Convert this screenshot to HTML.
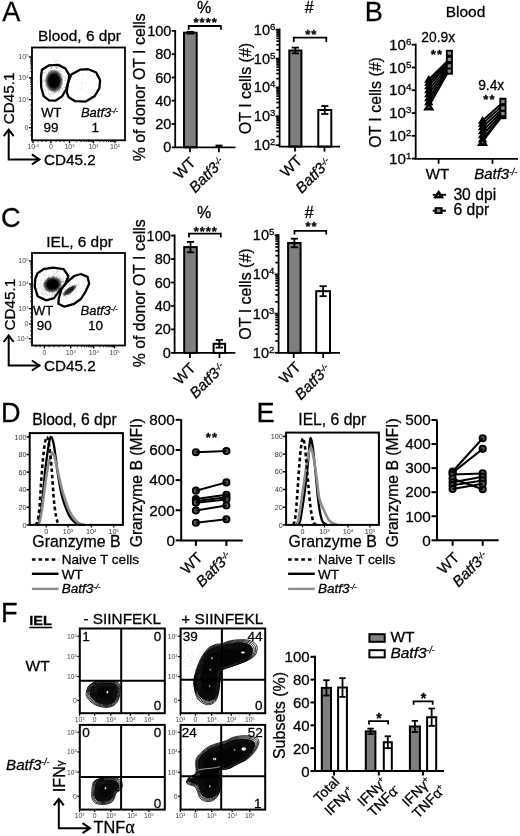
<!DOCTYPE html>
<html><head><meta charset="utf-8"><style>
html,body{margin:0;padding:0;background:#fff;}
svg{display:block;font-family:"Liberation Sans", Arial, Helvetica, sans-serif;}
text{stroke:#000;stroke-width:0.28px;}
text.lt{stroke:none;}
</style></head><body>
<svg width="520" height="836" viewBox="0 0 520 836">
<rect width="520" height="836" fill="#fff"/>
<text x="2.2" y="21.25" text-anchor="start" style="font-size:27.2px;" fill="#000">A</text>
<text x="364.7" y="21.2" text-anchor="start" style="font-size:27.2px;" fill="#000">B</text>
<text x="1.0" y="227.3" text-anchor="start" style="font-size:27.2px;" fill="#000">C</text>
<text x="0.9" y="421.8" text-anchor="start" style="font-size:27.2px;" fill="#000">D</text>
<text x="256.5" y="421.8" text-anchor="start" style="font-size:27.2px;" fill="#000">E</text>
<text x="1.0" y="621.7" text-anchor="start" style="font-size:27.2px;" fill="#000">F</text>
<rect x="32" y="47.5" width="93" height="92.80000000000001" fill="none" stroke="#000" stroke-width="1.8"/>
<text x="79.5" y="40.5" text-anchor="middle" style="font-size:15.4px;" fill="#000">Blood, 6 dpr</text>
<defs><radialGradient id="g8"><stop offset="0" stop-color="#000" stop-opacity="1.000"/><stop offset="0.55" stop-color="#000" stop-opacity="0.970"/><stop offset="0.8" stop-color="#000" stop-opacity="0.550"/><stop offset="1.0" stop-color="#000" stop-opacity="0.000"/></radialGradient></defs>
<ellipse cx="54" cy="81" rx="9.5" ry="12" fill="url(#g8)" transform="rotate(0 54 81)"/>
<path d="M61.3,91.4h0.6M54.4,75.5h0.6M47.8,81.2h0.6M48.2,70.7h0.6M55.1,82.0h0.6M57.1,74.4h0.6M54.0,80.5h0.6M45.4,84.9h0.6M55.8,98.2h0.6M55.2,80.0h0.6M61.0,82.4h0.6M59.2,78.4h0.6M55.2,88.4h0.6M58.0,81.9h0.6M47.8,84.2h0.6M54.4,86.2h0.6M55.2,88.8h0.6M53.7,82.5h0.6M57.8,73.2h0.6M51.7,77.4h0.6M65.3,80.3h0.6M57.7,85.5h0.6M52.4,69.8h0.6M59.5,78.1h0.6M58.1,71.6h0.6M51.5,90.0h0.6M62.2,71.6h0.6M46.4,80.7h0.6M58.2,82.2h0.6M55.7,73.9h0.6M57.3,89.0h0.6M51.5,70.7h0.6M49.7,86.5h0.6M44.1,80.3h0.6M48.4,80.1h0.6M52.6,81.1h0.6M62.6,84.0h0.6M61.6,80.0h0.6M51.3,83.7h0.6M37.8,80.7h0.6M54.9,72.1h0.6M56.6,77.0h0.6M40.0,79.5h0.6M48.4,77.3h0.6M53.1,90.0h0.6M54.6,80.8h0.6M56.2,68.0h0.6M61.1,73.2h0.6M56.5,72.9h0.6M48.4,78.1h0.6M64.8,86.0h0.6M50.6,79.0h0.6M47.4,80.8h0.6M50.7,86.2h0.6M46.3,78.6h0.6M49.2,75.8h0.6M58.1,81.9h0.6M57.3,89.6h0.6M60.6,71.1h0.6M57.1,68.3h0.6M53.6,94.8h0.6M52.9,78.3h0.6M55.0,81.1h0.6M54.2,75.5h0.6M60.2,87.4h0.6M52.8,83.3h0.6M57.8,88.4h0.6M56.2,86.0h0.6M52.5,73.3h0.6M51.2,88.3h0.6M59.6,82.1h0.6M50.8,83.2h0.6M63.5,90.8h0.6M50.1,80.7h0.6M45.7,72.8h0.6M55.1,81.2h0.6M59.5,90.1h0.6M58.8,90.5h0.6M50.9,72.9h0.6M56.9,100.3h0.6M56.0,72.7h0.6M55.4,91.3h0.6M48.1,86.8h0.6M50.5,90.2h0.6M58.5,83.2h0.6M65.4,78.1h0.6M50.1,94.4h0.6M49.0,96.8h0.6M53.8,73.5h0.6M54.0,81.9h0.6M55.1,79.6h0.6M60.2,64.3h0.6M50.8,79.1h0.6M64.4,66.7h0.6M52.1,72.8h0.6M50.2,85.6h0.6M56.3,91.4h0.6M50.6,82.9h0.6M60.7,87.5h0.6M52.1,89.1h0.6M48.7,94.0h0.6M54.9,80.2h0.6M55.5,87.1h0.6M63.9,80.0h0.6M51.9,85.2h0.6M49.0,68.8h0.6M58.8,78.3h0.6M60.4,73.6h0.6M37.5,83.0h0.6M54.9,92.5h0.6M57.0,83.2h0.6M57.3,78.4h0.6M54.4,71.3h0.6M57.0,75.2h0.6M51.5,86.0h0.6M59.2,73.7h0.6M65.4,76.7h0.6M58.8,87.8h0.6M55.3,82.2h0.6M64.2,87.4h0.6M56.5,67.9h0.6M49.7,89.4h0.6M55.1,74.1h0.6M50.3,78.8h0.6M57.9,83.8h0.6M59.7,75.1h0.6M59.6,77.4h0.6M52.3,93.5h0.6M54.4,80.0h0.6M52.8,78.2h0.6M62.9,90.9h0.6M58.1,82.3h0.6M59.9,80.4h0.6M56.6,83.9h0.6M54.5,92.9h0.6M64.0,90.5h0.6M43.1,94.2h0.6M58.0,77.8h0.6M53.9,89.2h0.6M60.7,87.2h0.6M54.8,81.3h0.6M58.7,80.3h0.6M48.9,76.5h0.6M53.2,83.4h0.6M66.9,71.1h0.6M56.7,80.3h0.6M55.7,90.7h0.6M61.1,79.9h0.6M50.8,71.2h0.6M53.6,90.0h0.6M52.5,86.1h0.6M58.0,83.9h0.6M60.2,80.2h0.6M49.3,72.6h0.6M59.3,78.4h0.6M52.2,87.0h0.6M49.5,93.7h0.6M57.8,77.2h0.6M50.4,88.8h0.6M47.3,76.4h0.6M54.0,82.5h0.6M54.1,83.8h0.6M51.9,80.1h0.6M61.2,85.7h0.6M51.4,93.3h0.6M42.7,81.6h0.6M57.8,88.0h0.6M54.6,78.2h0.6M57.3,79.6h0.6M56.7,60.4h0.6M56.2,75.3h0.6M59.4,86.4h0.6M58.2,78.1h0.6M56.5,78.5h0.6M55.2,80.0h0.6M49.0,95.2h0.6M58.1,66.2h0.6M59.1,71.0h0.6M52.7,76.8h0.6M51.0,82.7h0.6M52.1,70.6h0.6M54.0,83.6h0.6M64.1,78.0h0.6M47.2,78.3h0.6M57.7,74.6h0.6M49.9,85.0h0.6M53.9,82.6h0.6M50.4,75.1h0.6M52.2,79.9h0.6M52.1,84.1h0.6M57.1,84.9h0.6M56.7,74.6h0.6M47.6,86.8h0.6M54.1,81.9h0.6M47.4,79.5h0.6M50.4,74.8h0.6M50.4,70.2h0.6M54.5,89.4h0.6M50.0,81.7h0.6M47.8,85.8h0.6M64.6,72.1h0.6M52.7,91.3h0.6M56.1,81.8h0.6M42.4,79.9h0.6M59.2,91.3h0.6M57.7,76.8h0.6M50.1,67.9h0.6M47.9,89.1h0.6M53.3,71.4h0.6M61.5,69.0h0.6M61.2,78.7h0.6M55.9,85.9h0.6M55.5,90.2h0.6M54.1,78.6h0.6M50.2,70.6h0.6M50.0,88.1h0.6M58.7,91.0h0.6M69.5,86.1h0.6M56.9,71.5h0.6M52.6,96.8h0.6M57.0,80.0h0.6M55.8,67.4h0.6M49.2,71.6h0.6M41.8,86.5h0.6M59.5,79.7h0.6M56.0,73.7h0.6M56.6,86.5h0.6M62.7,92.2h0.6M56.8,80.1h0.6M49.3,76.6h0.6M57.5,85.1h0.6M54.1,93.0h0.6M57.7,81.1h0.6M52.9,81.6h0.6M48.6,73.9h0.6M56.0,76.8h0.6M52.5,89.8h0.6M52.9,90.5h0.6M54.0,91.9h0.6M56.6,68.3h0.6M61.1,79.5h0.6M42.8,81.8h0.6M54.9,71.7h0.6M50.5,84.9h0.6M62.0,89.2h0.6M61.0,89.1h0.6M39.8,75.8h0.6M55.1,61.6h0.6M58.4,87.4h0.6M49.6,78.3h0.6M48.6,80.9h0.6M53.8,80.9h0.6M48.2,83.8h0.6M52.1,87.8h0.6M55.8,70.3h0.6M45.8,81.5h0.6M51.2,84.4h0.6M58.6,81.1h0.6M44.4,72.4h0.6M57.3,73.4h0.6M60.3,80.3h0.6M57.0,74.6h0.6M53.4,59.7h0.6M52.8,85.1h0.6M48.9,74.9h0.6M53.7,81.5h0.6M49.4,85.9h0.6M44.6,89.0h0.6M46.0,75.1h0.6M61.6,73.8h0.6M44.6,81.5h0.6M48.8,73.0h0.6M50.0,75.6h0.6M48.4,73.6h0.6M63.2,76.2h0.6M59.5,70.9h0.6M57.1,72.0h0.6M51.4,85.6h0.6M51.0,66.9h0.6M50.9,79.9h0.6M57.3,73.8h0.6M52.3,81.5h0.6M44.6,80.2h0.6M49.3,84.2h0.6M53.4,79.8h0.6M40.2,80.2h0.6M51.9,74.2h0.6M51.1,71.9h0.6M55.0,85.8h0.6M57.4,77.3h0.6M63.6,87.2h0.6M48.6,80.0h0.6M44.7,80.1h0.6M58.1,90.1h0.6M51.6,68.1h0.6M53.0,90.8h0.6M54.8,90.2h0.6M58.7,92.2h0.6M57.4,76.2h0.6M56.5,99.3h0.6M51.0,67.6h0.6M66.0,83.9h0.6M50.4,76.6h0.6M45.2,86.1h0.6M54.8,76.4h0.6M51.6,77.9h0.6M60.1,79.7h0.6M61.9,75.0h0.6M50.5,77.5h0.6M50.9,80.3h0.6M59.8,89.7h0.6M47.9,90.2h0.6M54.5,92.4h0.6M53.0,75.0h0.6M58.5,85.5h0.6M51.4,81.2h0.6M54.7,83.2h0.6M44.2,72.3h0.6M54.3,82.9h0.6M51.0,68.3h0.6M61.7,78.8h0.6M48.0,92.5h0.6M60.5,88.5h0.6M58.8,85.1h0.6M48.4,81.2h0.6M56.0,85.6h0.6M56.7,73.7h0.6M50.6,78.6h0.6M52.9,74.7h0.6M43.6,72.2h0.6M55.8,80.9h0.6M57.3,67.4h0.6M51.6,87.4h0.6M42.8,73.2h0.6M44.5,89.7h0.6M54.2,76.9h0.6M54.9,80.3h0.6M59.2,89.4h0.6M59.2,83.5h0.6M58.4,86.9h0.6M60.6,67.8h0.6M56.0,81.6h0.6M54.9,79.2h0.6M53.6,84.6h0.6M55.1,81.9h0.6M47.9,72.0h0.6M49.7,68.2h0.6M51.1,74.9h0.6M43.8,67.0h0.6M51.3,76.8h0.6" stroke="#000" stroke-width="0.6" stroke-opacity="0.5"/>
<path d="M95.4,88.5h0.6M79.9,81.4h0.6M78.7,79.9h0.6M82.2,83.7h0.6M80.7,88.3h0.6M87.4,94.3h0.6M77.1,87.6h0.6M82.0,75.6h0.6M82.4,75.4h0.6M83.9,98.4h0.6M90.9,93.6h0.6M90.3,75.9h0.6M86.2,84.7h0.6M86.3,78.5h0.6M73.6,95.0h0.6M90.3,85.6h0.6M81.4,85.0h0.6M77.5,89.0h0.6M84.9,83.2h0.6M81.7,83.6h0.6M84.7,81.9h0.6M89.1,85.1h0.6M83.5,79.5h0.6M90.4,90.8h0.6M87.6,74.3h0.6M82.2,89.2h0.6M84.2,90.7h0.6M81.7,88.2h0.6M86.8,71.2h0.6M81.9,82.8h0.6" stroke="#000" stroke-width="0.6" stroke-opacity="0.25"/>
<polygon points="41.9,69.8 49.1,65.3 58.2,64.9 65.4,68.5 69.3,75.1 68.4,81.6 66.1,89.5 62.2,96.3 55.6,100.6 49.1,100.3 43.8,96.3 41.2,87.5 41.0,76.4" fill="none" stroke="#000" stroke-width="2.3" stroke-linejoin="round"/>
<polygon points="71.3,74.4 80.5,69.6 88.3,69.2 96.2,72.5 100.1,80.3 99.4,88.2 94.8,96.0 85.7,101.6 75.2,101.2 68.7,97.3 66.7,92.1 68.0,82.9" fill="none" stroke="#000" stroke-width="2.3" stroke-linejoin="round"/>
<text x="51.3" y="117" text-anchor="middle" style="font-size:13px;" fill="#000">WT</text>
<text x="51.0" y="131.8" text-anchor="middle" style="font-size:13.5px;" fill="#000">99</text>
<text x="80.9" y="117" text-anchor="start" style="font-size:13px;" fill="#000"><tspan font-style="italic">Batf3</tspan><tspan font-style="italic" font-size="55%" baseline-shift="super">-/-</tspan></text>
<text x="95.3" y="131.8" text-anchor="middle" style="font-size:13.5px;" fill="#000">1</text>
<line x1="29" y1="57" x2="32" y2="57" stroke="#000" stroke-width="1.3"/>
<text x="28.5" y="59.3" text-anchor="end" style="font-size:7px;" fill="#444" class="lt">10<tspan font-size="60%" baseline-shift="super">5</tspan></text>
<line x1="29" y1="77.8" x2="32" y2="77.8" stroke="#000" stroke-width="1.3"/>
<text x="28.5" y="80.1" text-anchor="end" style="font-size:7px;" fill="#444" class="lt">10<tspan font-size="60%" baseline-shift="super">4</tspan></text>
<line x1="29" y1="99.7" x2="32" y2="99.7" stroke="#000" stroke-width="1.3"/>
<text x="28.5" y="102.0" text-anchor="end" style="font-size:7px;" fill="#444" class="lt">10<tspan font-size="60%" baseline-shift="super">3</tspan></text>
<line x1="29" y1="127.7" x2="32" y2="127.7" stroke="#000" stroke-width="1.3"/>
<text x="28.5" y="130.0" text-anchor="end" style="font-size:7px;" fill="#444" class="lt">0</text>
<line x1="33" y1="140.3" x2="33" y2="143.3" stroke="#000" stroke-width="1.3"/>
<text x="33" y="149.3" text-anchor="middle" style="font-size:7px;" fill="#444" class="lt">10<tspan font-size="60%" baseline-shift="super">-3</tspan></text>
<line x1="51" y1="140.3" x2="51" y2="143.3" stroke="#000" stroke-width="1.3"/>
<text x="51" y="149.3" text-anchor="middle" style="font-size:7px;" fill="#444" class="lt">0</text>
<line x1="69.5" y1="140.3" x2="69.5" y2="143.3" stroke="#000" stroke-width="1.3"/>
<text x="69.5" y="149.3" text-anchor="middle" style="font-size:7px;" fill="#444" class="lt">10<tspan font-size="60%" baseline-shift="super">3</tspan></text>
<line x1="93.5" y1="140.3" x2="93.5" y2="143.3" stroke="#000" stroke-width="1.3"/>
<text x="93.5" y="149.3" text-anchor="middle" style="font-size:7px;" fill="#444" class="lt">10<tspan font-size="60%" baseline-shift="super">4</tspan></text>
<line x1="115" y1="140.3" x2="115" y2="143.3" stroke="#000" stroke-width="1.3"/>
<text x="115" y="149.3" text-anchor="middle" style="font-size:7px;" fill="#444" class="lt">10<tspan font-size="60%" baseline-shift="super">5</tspan></text>
<line x1="30.2" y1="71.5385760901892" x2="32" y2="71.5385760901892" stroke="#000" stroke-width="0.9"/>
<line x1="30.2" y1="67.87587790183102" x2="32" y2="67.87587790183102" stroke="#000" stroke-width="0.9"/>
<line x1="30.2" y1="65.27715218037838" x2="32" y2="65.27715218037838" stroke="#000" stroke-width="0.9"/>
<line x1="30.2" y1="63.26142390981081" x2="32" y2="63.26142390981081" stroke="#000" stroke-width="0.9"/>
<line x1="30.2" y1="61.614453992020216" x2="32" y2="61.614453992020216" stroke="#000" stroke-width="0.9"/>
<line x1="30.2" y1="60.22196076770346" x2="32" y2="60.22196076770346" stroke="#000" stroke-width="0.9"/>
<line x1="30.2" y1="59.01572827056758" x2="32" y2="59.01572827056758" stroke="#000" stroke-width="0.9"/>
<line x1="30.2" y1="57.95175580366204" x2="32" y2="57.95175580366204" stroke="#000" stroke-width="0.9"/>
<line x1="30.2" y1="93.10744309495881" x2="32" y2="93.10744309495881" stroke="#000" stroke-width="0.9"/>
<line x1="30.2" y1="89.25104452163939" x2="32" y2="89.25104452163939" stroke="#000" stroke-width="0.9"/>
<line x1="30.2" y1="86.51488618991762" x2="32" y2="86.51488618991762" stroke="#000" stroke-width="0.9"/>
<line x1="30.2" y1="84.39255690504119" x2="32" y2="84.39255690504119" stroke="#000" stroke-width="0.9"/>
<line x1="30.2" y1="82.65848761659821" x2="32" y2="82.65848761659821" stroke="#000" stroke-width="0.9"/>
<line x1="30.2" y1="81.19235292368778" x2="32" y2="81.19235292368778" stroke="#000" stroke-width="0.9"/>
<line x1="30.2" y1="79.92232928487644" x2="32" y2="79.92232928487644" stroke="#000" stroke-width="0.9"/>
<line x1="30.2" y1="78.80208904327878" x2="32" y2="78.80208904327878" stroke="#000" stroke-width="0.9"/>
<line x1="30.2" y1="105" x2="32" y2="105" stroke="#000" stroke-width="0.9"/>
<line x1="30.2" y1="110" x2="32" y2="110" stroke="#000" stroke-width="0.9"/>
<line x1="30.2" y1="115" x2="32" y2="115" stroke="#000" stroke-width="0.9"/>
<line x1="30.2" y1="120" x2="32" y2="120" stroke="#000" stroke-width="0.9"/>
<line x1="30.2" y1="124" x2="32" y2="124" stroke="#000" stroke-width="0.9"/>
<line x1="30.2" y1="131" x2="32" y2="131" stroke="#000" stroke-width="0.9"/>
<line x1="30.2" y1="135" x2="32" y2="135" stroke="#000" stroke-width="0.9"/>
<line x1="76.72471989593555" y1="140.3" x2="76.72471989593555" y2="142.10000000000002" stroke="#000" stroke-width="0.9"/>
<line x1="80.9509101132719" y1="140.3" x2="80.9509101132719" y2="142.10000000000002" stroke="#000" stroke-width="0.9"/>
<line x1="83.9494397918711" y1="140.3" x2="83.9494397918711" y2="142.10000000000002" stroke="#000" stroke-width="0.9"/>
<line x1="86.27528010406445" y1="140.3" x2="86.27528010406445" y2="142.10000000000002" stroke="#000" stroke-width="0.9"/>
<line x1="88.17563000920745" y1="140.3" x2="88.17563000920745" y2="142.10000000000002" stroke="#000" stroke-width="0.9"/>
<line x1="89.78235296034217" y1="140.3" x2="89.78235296034217" y2="142.10000000000002" stroke="#000" stroke-width="0.9"/>
<line x1="91.17415968780665" y1="140.3" x2="91.17415968780665" y2="142.10000000000002" stroke="#000" stroke-width="0.9"/>
<line x1="92.4018202265438" y1="140.3" x2="92.4018202265438" y2="142.10000000000002" stroke="#000" stroke-width="0.9"/>
<line x1="99.9721449067756" y1="140.3" x2="99.9721449067756" y2="142.10000000000002" stroke="#000" stroke-width="0.9"/>
<line x1="103.75810697647275" y1="140.3" x2="103.75810697647275" y2="142.10000000000002" stroke="#000" stroke-width="0.9"/>
<line x1="106.4442898135512" y1="140.3" x2="106.4442898135512" y2="142.10000000000002" stroke="#000" stroke-width="0.9"/>
<line x1="108.5278550932244" y1="140.3" x2="108.5278550932244" y2="142.10000000000002" stroke="#000" stroke-width="0.9"/>
<line x1="110.23025188324834" y1="140.3" x2="110.23025188324834" y2="142.10000000000002" stroke="#000" stroke-width="0.9"/>
<line x1="111.66960786030651" y1="140.3" x2="111.66960786030651" y2="142.10000000000002" stroke="#000" stroke-width="0.9"/>
<line x1="112.91643472032679" y1="140.3" x2="112.91643472032679" y2="142.10000000000002" stroke="#000" stroke-width="0.9"/>
<line x1="114.01621395294549" y1="140.3" x2="114.01621395294549" y2="142.10000000000002" stroke="#000" stroke-width="0.9"/>
<line x1="38" y1="140.3" x2="38" y2="142.10000000000002" stroke="#000" stroke-width="0.9"/>
<line x1="42" y1="140.3" x2="42" y2="142.10000000000002" stroke="#000" stroke-width="0.9"/>
<line x1="46" y1="140.3" x2="46" y2="142.10000000000002" stroke="#000" stroke-width="0.9"/>
<line x1="56" y1="140.3" x2="56" y2="142.10000000000002" stroke="#000" stroke-width="0.9"/>
<line x1="60" y1="140.3" x2="60" y2="142.10000000000002" stroke="#000" stroke-width="0.9"/>
<line x1="64" y1="140.3" x2="64" y2="142.10000000000002" stroke="#000" stroke-width="0.9"/>
<path d="M8.7,129.6 V159.4 H39.4" fill="none" stroke="#000" stroke-width="2.0" stroke-linejoin="miter"/>
<path d="M3.6999999999999993,136.1 L8.7,129.6 L13.7,136.1" fill="none" stroke="#000" stroke-width="2.0"/>
<path d="M31.9,154.4 L39.4,159.4 L31.9,164.4" fill="none" stroke="#000" stroke-width="2.0"/>
<text x="44" y="164.6" text-anchor="start" style="font-size:15.3px;" fill="#000">CD45.2</text>
<text x="14.5" y="124.3" text-anchor="start" style="font-size:15.3px;" fill="#000" transform="rotate(-90 14.5 124.3)">CD45.1</text>
<rect x="32" y="253" width="93" height="92.5" fill="none" stroke="#000" stroke-width="1.8"/>
<text x="79.5" y="247" text-anchor="middle" style="font-size:15.4px;" fill="#000">IEL, 6 dpr</text>
<defs><radialGradient id="g88"><stop offset="0" stop-color="#000" stop-opacity="1.000"/><stop offset="0.55" stop-color="#000" stop-opacity="0.970"/><stop offset="0.8" stop-color="#000" stop-opacity="0.550"/><stop offset="1.0" stop-color="#000" stop-opacity="0.000"/></radialGradient></defs>
<ellipse cx="52.5" cy="284.5" rx="10" ry="8.5" fill="url(#g88)" transform="rotate(-10 52.5 284.5)"/>
<path d="M47.6,280.3h0.6M62.6,282.1h0.6M56.3,276.3h0.6M38.7,284.3h0.6M54.4,280.1h0.6M56.7,288.3h0.6M49.6,284.7h0.6M48.8,291.2h0.6M64.3,285.2h0.6M48.6,281.2h0.6M51.6,289.7h0.6M49.1,293.4h0.6M44.7,285.8h0.6M62.6,292.7h0.6M50.7,289.3h0.6M69.8,288.0h0.6M38.7,288.5h0.6M66.6,275.5h0.6M56.3,272.1h0.6M61.9,278.1h0.6M58.5,288.5h0.6M33.3,279.9h0.6M53.2,275.8h0.6M51.5,279.4h0.6M60.6,280.2h0.6M47.3,289.0h0.6M60.2,282.3h0.6M54.8,286.9h0.6M48.2,278.6h0.6M55.6,282.0h0.6M44.6,290.7h0.6M55.4,284.8h0.6M47.5,284.1h0.6M56.9,286.5h0.6M46.4,280.5h0.6M54.9,285.1h0.6M56.8,277.2h0.6M60.1,293.1h0.6M58.7,284.1h0.6M57.1,276.5h0.6M51.6,296.2h0.6M40.9,280.0h0.6M57.1,280.0h0.6M47.8,279.0h0.6M62.7,279.3h0.6M49.0,274.9h0.6M57.4,283.6h0.6M57.2,292.5h0.6M52.3,277.8h0.6M46.1,286.1h0.6M59.8,276.5h0.6M50.8,284.0h0.6M55.9,278.9h0.6M55.2,288.4h0.6M52.2,284.0h0.6M57.0,287.0h0.6M59.5,277.2h0.6M60.2,281.9h0.6M44.7,282.8h0.6M44.4,284.8h0.6M57.0,271.1h0.6M45.7,290.0h0.6M51.3,289.2h0.6M44.0,285.7h0.6M35.0,282.8h0.6M58.4,290.3h0.6M62.9,282.4h0.6M46.5,283.4h0.6M41.5,294.0h0.6M59.2,278.2h0.6M62.9,275.1h0.6M55.3,279.5h0.6M41.8,288.6h0.6M46.2,292.3h0.6M46.8,286.1h0.6M49.6,285.8h0.6M49.2,289.7h0.6M56.5,284.2h0.6M53.6,295.4h0.6M47.6,282.9h0.6M57.4,283.6h0.6M41.9,285.6h0.6M49.1,279.5h0.6M52.7,278.1h0.6M49.8,278.6h0.6M62.2,281.2h0.6M55.6,285.6h0.6M56.9,282.9h0.6M57.4,284.3h0.6M37.1,289.0h0.6M45.1,291.1h0.6M53.5,282.2h0.6M34.3,275.7h0.6M44.6,283.8h0.6M45.6,296.9h0.6M55.3,283.5h0.6M45.9,283.8h0.6M50.6,282.4h0.6M52.8,289.0h0.6M41.4,287.7h0.6M58.2,275.8h0.6M50.9,282.6h0.6M46.1,291.0h0.6M51.5,291.1h0.6M54.9,282.5h0.6M54.0,282.1h0.6M43.4,294.1h0.6M56.0,290.4h0.6M41.9,292.2h0.6M57.7,283.3h0.6M39.0,287.4h0.6M48.0,284.2h0.6M52.0,279.5h0.6M51.7,284.7h0.6M61.7,282.3h0.6M66.4,275.4h0.6M52.8,291.4h0.6M43.0,289.6h0.6M54.5,280.8h0.6M52.4,293.2h0.6M49.9,286.5h0.6M56.4,290.6h0.6M37.9,278.8h0.6M43.6,284.5h0.6M57.2,288.3h0.6M52.1,293.1h0.6M52.7,288.3h0.6M48.4,289.9h0.6M49.0,291.6h0.6M59.8,293.7h0.6M48.7,278.7h0.6M58.1,285.3h0.6M47.8,277.8h0.6M55.7,273.0h0.6M50.5,290.8h0.6M51.3,287.3h0.6M56.2,287.2h0.6M59.9,286.9h0.6M48.9,278.2h0.6M50.0,281.2h0.6M56.3,290.7h0.6M56.8,279.8h0.6M53.8,284.3h0.6M50.7,292.1h0.6M56.8,285.8h0.6M42.2,271.6h0.6M48.9,291.5h0.6M51.1,284.6h0.6M51.3,287.4h0.6M54.1,293.8h0.6M51.5,283.2h0.6M62.3,287.0h0.6M57.5,286.6h0.6M52.6,286.3h0.6M56.0,284.5h0.6M41.8,294.1h0.6M48.9,281.9h0.6M49.6,281.0h0.6M46.8,285.0h0.6M57.9,281.9h0.6M54.2,276.6h0.6M56.2,277.5h0.6M56.3,279.7h0.6M47.4,278.3h0.6M44.2,284.7h0.6M46.0,284.4h0.6M59.0,278.6h0.6M50.4,284.3h0.6M48.5,285.0h0.6M55.0,289.9h0.6M47.6,284.1h0.6M52.6,291.3h0.6M46.3,286.6h0.6M58.0,286.8h0.6M47.0,279.7h0.6M40.1,283.7h0.6M49.4,276.6h0.6M58.1,284.4h0.6M50.5,281.9h0.6M55.3,282.4h0.6M55.3,281.3h0.6M57.7,274.4h0.6M47.4,295.5h0.6M60.8,292.2h0.6M48.1,289.4h0.6M59.8,288.3h0.6M52.7,292.7h0.6M53.9,277.0h0.6M68.4,282.4h0.6M59.9,279.3h0.6M47.4,290.4h0.6M57.0,279.5h0.6M52.8,277.0h0.6M40.4,292.8h0.6M45.9,289.8h0.6M59.7,285.3h0.6M62.6,284.8h0.6M54.4,284.2h0.6M55.5,285.9h0.6M46.5,285.3h0.6M52.8,300.4h0.6M59.6,278.8h0.6M54.6,274.3h0.6M54.6,294.3h0.6M54.3,291.4h0.6M50.6,287.4h0.6M52.8,272.1h0.6M49.2,295.7h0.6M48.3,292.0h0.6M63.5,282.3h0.6M59.3,285.4h0.6M49.3,288.4h0.6M54.3,278.6h0.6M48.4,277.7h0.6M50.3,284.7h0.6M44.4,275.5h0.6M58.0,290.6h0.6M46.7,285.9h0.6M45.7,270.9h0.6M66.3,283.7h0.6M44.7,293.0h0.6M58.5,291.4h0.6M57.7,286.6h0.6M61.4,281.4h0.6M53.0,278.3h0.6M45.4,286.9h0.6M52.5,275.6h0.6M55.9,289.6h0.6M44.1,284.1h0.6M62.7,277.9h0.6M56.9,288.1h0.6M53.8,285.1h0.6M56.4,285.4h0.6M52.0,276.3h0.6M53.3,279.9h0.6M64.2,294.9h0.6M57.6,271.5h0.6M59.0,284.0h0.6M44.4,279.1h0.6M58.7,279.8h0.6M52.1,284.9h0.6M56.0,268.9h0.6M59.6,278.7h0.6M50.5,288.3h0.6M52.6,271.5h0.6M56.2,283.0h0.6M45.3,282.3h0.6M43.0,290.6h0.6M61.3,279.4h0.6M48.1,277.1h0.6M47.0,279.7h0.6M54.3,293.9h0.6M60.2,288.6h0.6M47.1,290.1h0.6M47.0,280.5h0.6M57.1,283.1h0.6M68.6,282.7h0.6M51.3,288.9h0.6M45.7,289.5h0.6M62.4,282.0h0.6M50.3,291.2h0.6M45.7,287.8h0.6M49.4,286.7h0.6M48.0,288.7h0.6M57.8,293.4h0.6M50.6,287.3h0.6M40.5,282.2h0.6M52.9,276.7h0.6M50.9,279.7h0.6M56.1,287.2h0.6M50.1,288.6h0.6M49.0,285.8h0.6M56.4,286.9h0.6M57.9,293.1h0.6M48.2,284.4h0.6M41.6,291.3h0.6M44.7,282.5h0.6M49.6,287.3h0.6M50.4,283.3h0.6M52.7,282.6h0.6M51.4,279.2h0.6M47.8,278.5h0.6M58.8,288.4h0.6M57.1,285.6h0.6M49.2,288.2h0.6M40.2,272.6h0.6M46.3,294.0h0.6M55.6,292.7h0.6M48.9,290.8h0.6M63.6,288.1h0.6M55.4,290.0h0.6M51.3,294.6h0.6M44.4,281.7h0.6M51.9,280.3h0.6M64.4,286.2h0.6M49.4,294.4h0.6M60.8,280.9h0.6M63.6,289.2h0.6M48.7,282.0h0.6M55.6,290.4h0.6M64.0,290.9h0.6M47.7,275.3h0.6M43.1,294.6h0.6M60.4,289.7h0.6M52.6,285.0h0.6M56.1,286.5h0.6M52.1,279.1h0.6M43.9,286.9h0.6M52.8,292.4h0.6M43.8,274.9h0.6M39.9,286.5h0.6M62.9,280.7h0.6M48.4,287.4h0.6M63.4,288.7h0.6M59.0,288.6h0.6M50.7,285.3h0.6M56.9,293.9h0.6M37.9,284.0h0.6M54.6,282.8h0.6M51.4,283.2h0.6M46.9,288.3h0.6M60.5,281.1h0.6M56.4,290.0h0.6M48.2,284.7h0.6M45.7,294.6h0.6M63.3,281.5h0.6M66.1,286.9h0.6M41.2,289.2h0.6M54.6,287.0h0.6M56.4,281.3h0.6M60.1,284.9h0.6M64.5,281.7h0.6M38.3,297.7h0.6M54.3,273.9h0.6M47.8,280.9h0.6M57.9,280.0h0.6M59.5,280.4h0.6M58.1,280.1h0.6M45.4,289.1h0.6M51.5,287.6h0.6M40.9,280.7h0.6M52.2,295.6h0.6M53.4,274.9h0.6M34.1,298.2h0.6M53.4,277.2h0.6M59.6,288.0h0.6M66.4,283.1h0.6M50.1,289.5h0.6M43.4,283.6h0.6M45.6,282.5h0.6" stroke="#000" stroke-width="0.6" stroke-opacity="0.5"/>
<defs><radialGradient id="g91"><stop offset="0" stop-color="#000" stop-opacity="0.850"/><stop offset="0.55" stop-color="#000" stop-opacity="0.825"/><stop offset="0.8" stop-color="#000" stop-opacity="0.468"/><stop offset="1.0" stop-color="#000" stop-opacity="0.000"/></radialGradient></defs>
<ellipse cx="69.7" cy="290.4" rx="9" ry="3.2" fill="url(#g91)" transform="rotate(-37 69.7 290.4)"/>
<path d="M61.3,292.7h0.6M64.6,295.3h0.6M69.8,290.1h0.6M73.1,290.0h0.6M74.9,292.3h0.6M71.7,290.0h0.6M68.7,294.2h0.6M72.9,279.7h0.6M72.3,285.3h0.6M71.6,289.2h0.6M61.5,292.8h0.6M71.9,296.1h0.6M62.9,294.4h0.6M67.9,291.0h0.6M78.1,289.8h0.6M70.0,291.3h0.6M70.2,294.5h0.6M70.3,291.8h0.6M70.2,293.2h0.6M68.2,289.1h0.6M76.7,279.7h0.6M70.1,289.1h0.6M67.9,297.6h0.6M70.8,288.4h0.6M65.7,294.4h0.6M69.4,290.0h0.6M68.4,295.7h0.6M70.5,289.2h0.6M62.3,293.8h0.6M72.4,286.3h0.6M72.8,287.7h0.6M72.2,289.5h0.6M67.1,291.6h0.6M70.2,291.8h0.6M83.0,282.8h0.6M66.1,299.3h0.6M68.2,289.6h0.6M70.3,289.8h0.6M70.9,289.4h0.6M71.3,292.8h0.6M78.4,284.1h0.6M79.0,286.0h0.6M76.1,286.3h0.6M71.8,291.0h0.6M64.9,294.1h0.6M65.2,296.3h0.6M71.6,290.7h0.6M67.0,290.3h0.6M74.0,286.0h0.6M68.7,291.3h0.6M72.1,288.7h0.6M63.0,292.5h0.6M74.4,286.0h0.6M67.3,289.7h0.6M75.0,287.7h0.6M64.7,289.4h0.6M78.0,282.6h0.6M63.2,293.9h0.6M64.0,294.7h0.6M65.3,290.4h0.6M72.0,286.3h0.6M60.8,298.1h0.6M65.5,290.5h0.6M60.4,295.5h0.6M66.0,291.8h0.6M68.9,294.6h0.6M75.5,286.9h0.6M71.9,287.4h0.6M63.1,296.9h0.6M75.7,283.9h0.6M65.3,291.8h0.6M63.8,296.4h0.6M66.1,297.0h0.6M78.2,284.2h0.6M68.3,289.0h0.6M74.4,287.1h0.6M60.9,294.4h0.6M71.4,287.7h0.6M72.2,289.2h0.6M76.8,284.8h0.6M76.5,288.4h0.6M75.9,284.8h0.6M74.5,293.9h0.6M67.9,290.1h0.6M68.7,287.8h0.6M64.8,292.9h0.6M69.6,293.3h0.6M63.9,294.2h0.6M70.6,288.9h0.6M76.4,291.6h0.6" stroke="#000" stroke-width="0.6" stroke-opacity="0.5"/>
<polygon points="37.6,273.1 43.4,269.2 53.0,267.7 63.6,269.2 68.4,276.0 65.5,283.7 59.7,290.4 54.0,298.1 46.3,300.4 37.6,296.2 34.7,286.5 35.3,278.8" fill="none" stroke="#000" stroke-width="2.3" stroke-linejoin="round"/>
<polygon points="58.8,298.1 61.7,288.5 68.4,280.8 74.2,276.0 80.9,274.0 87.6,276.9 89.2,283.7 85.7,291.3 80.9,299.0 74.2,303.8 64.5,306.7 58.4,303.8" fill="none" stroke="#000" stroke-width="2.3" stroke-linejoin="round"/>
<text x="43" y="315" text-anchor="middle" style="font-size:13px;" fill="#000">WT</text>
<text x="44.2" y="329.8" text-anchor="middle" style="font-size:13.5px;" fill="#000">90</text>
<text x="80.5" y="315" text-anchor="start" style="font-size:13px;" fill="#000"><tspan font-style="italic">Batf3</tspan><tspan font-style="italic" font-size="55%" baseline-shift="super">-/-</tspan></text>
<text x="95.5" y="329.8" text-anchor="middle" style="font-size:13.5px;" fill="#000">10</text>
<line x1="29" y1="261" x2="32" y2="261" stroke="#000" stroke-width="1.3"/>
<text x="28.5" y="263.3" text-anchor="end" style="font-size:7px;" fill="#444" class="lt">10<tspan font-size="60%" baseline-shift="super">5</tspan></text>
<line x1="29" y1="284" x2="32" y2="284" stroke="#000" stroke-width="1.3"/>
<text x="28.5" y="286.3" text-anchor="end" style="font-size:7px;" fill="#444" class="lt">10<tspan font-size="60%" baseline-shift="super">4</tspan></text>
<line x1="29" y1="308.7" x2="32" y2="308.7" stroke="#000" stroke-width="1.3"/>
<text x="28.5" y="311.0" text-anchor="end" style="font-size:7px;" fill="#444" class="lt">10<tspan font-size="60%" baseline-shift="super">3</tspan></text>
<line x1="29" y1="324" x2="32" y2="324" stroke="#000" stroke-width="1.3"/>
<text x="28.5" y="326.3" text-anchor="end" style="font-size:7px;" fill="#444" class="lt">0</text>
<line x1="29" y1="338.7" x2="32" y2="338.7" stroke="#000" stroke-width="1.3"/>
<text x="28.5" y="341.0" text-anchor="end" style="font-size:7px;" fill="#444" class="lt">10<tspan font-size="60%" baseline-shift="super">-3</tspan></text>
<line x1="44.5" y1="345.5" x2="44.5" y2="348.5" stroke="#000" stroke-width="1.3"/>
<text x="44.5" y="354.5" text-anchor="middle" style="font-size:7px;" fill="#444" class="lt">0</text>
<line x1="70.7" y1="345.5" x2="70.7" y2="348.5" stroke="#000" stroke-width="1.3"/>
<text x="70.7" y="354.5" text-anchor="middle" style="font-size:7px;" fill="#444" class="lt">10<tspan font-size="60%" baseline-shift="super">3</tspan></text>
<line x1="93.7" y1="345.5" x2="93.7" y2="348.5" stroke="#000" stroke-width="1.3"/>
<text x="93.7" y="354.5" text-anchor="middle" style="font-size:7px;" fill="#444" class="lt">10<tspan font-size="60%" baseline-shift="super">4</tspan></text>
<line x1="114.5" y1="345.5" x2="114.5" y2="348.5" stroke="#000" stroke-width="1.3"/>
<text x="114.5" y="354.5" text-anchor="middle" style="font-size:7px;" fill="#444" class="lt">10<tspan font-size="60%" baseline-shift="super">5</tspan></text>
<line x1="30.2" y1="277.07631009972846" x2="32" y2="277.07631009972846" stroke="#000" stroke-width="0.9"/>
<line x1="30.2" y1="273.0262111414478" x2="32" y2="273.0262111414478" stroke="#000" stroke-width="0.9"/>
<line x1="30.2" y1="270.15262019945686" x2="32" y2="270.15262019945686" stroke="#000" stroke-width="0.9"/>
<line x1="30.2" y1="267.92368990027154" x2="32" y2="267.92368990027154" stroke="#000" stroke-width="0.9"/>
<line x1="30.2" y1="266.1025212411762" x2="32" y2="266.1025212411762" stroke="#000" stroke-width="0.9"/>
<line x1="30.2" y1="264.5627450796721" x2="32" y2="264.5627450796721" stroke="#000" stroke-width="0.9"/>
<line x1="30.2" y1="263.2289302991853" x2="32" y2="263.2289302991853" stroke="#000" stroke-width="0.9"/>
<line x1="30.2" y1="262.0524222828955" x2="32" y2="262.0524222828955" stroke="#000" stroke-width="0.9"/>
<line x1="30.2" y1="301.26455910709967" x2="32" y2="301.26455910709967" stroke="#000" stroke-width="0.9"/>
<line x1="30.2" y1="296.91510500842435" x2="32" y2="296.91510500842435" stroke="#000" stroke-width="0.9"/>
<line x1="30.2" y1="293.8291182141993" x2="32" y2="293.8291182141993" stroke="#000" stroke-width="0.9"/>
<line x1="30.2" y1="291.4354408929003" x2="32" y2="291.4354408929003" stroke="#000" stroke-width="0.9"/>
<line x1="30.2" y1="289.479664115524" x2="32" y2="289.479664115524" stroke="#000" stroke-width="0.9"/>
<line x1="30.2" y1="287.82607841164787" x2="32" y2="287.82607841164787" stroke="#000" stroke-width="0.9"/>
<line x1="30.2" y1="286.393677321299" x2="32" y2="286.393677321299" stroke="#000" stroke-width="0.9"/>
<line x1="30.2" y1="285.13021001684865" x2="32" y2="285.13021001684865" stroke="#000" stroke-width="0.9"/>
<line x1="30.2" y1="313" x2="32" y2="313" stroke="#000" stroke-width="0.9"/>
<line x1="30.2" y1="317" x2="32" y2="317" stroke="#000" stroke-width="0.9"/>
<line x1="30.2" y1="321" x2="32" y2="321" stroke="#000" stroke-width="0.9"/>
<line x1="30.2" y1="327" x2="32" y2="327" stroke="#000" stroke-width="0.9"/>
<line x1="30.2" y1="331" x2="32" y2="331" stroke="#000" stroke-width="0.9"/>
<line x1="30.2" y1="335" x2="32" y2="335" stroke="#000" stroke-width="0.9"/>
<line x1="30.2" y1="342" x2="32" y2="342" stroke="#000" stroke-width="0.9"/>
<line x1="77.62368990027157" y1="345.5" x2="77.62368990027157" y2="347.3" stroke="#000" stroke-width="0.9"/>
<line x1="81.67378885855224" y1="345.5" x2="81.67378885855224" y2="347.3" stroke="#000" stroke-width="0.9"/>
<line x1="84.54737980054314" y1="345.5" x2="84.54737980054314" y2="347.3" stroke="#000" stroke-width="0.9"/>
<line x1="86.77631009972843" y1="345.5" x2="86.77631009972843" y2="347.3" stroke="#000" stroke-width="0.9"/>
<line x1="88.59747875882381" y1="345.5" x2="88.59747875882381" y2="347.3" stroke="#000" stroke-width="0.9"/>
<line x1="90.1372549203279" y1="345.5" x2="90.1372549203279" y2="347.3" stroke="#000" stroke-width="0.9"/>
<line x1="91.47106970081471" y1="345.5" x2="91.47106970081471" y2="347.3" stroke="#000" stroke-width="0.9"/>
<line x1="92.64757771710447" y1="345.5" x2="92.64757771710447" y2="347.3" stroke="#000" stroke-width="0.9"/>
<line x1="99.9614239098108" y1="345.5" x2="99.9614239098108" y2="347.3" stroke="#000" stroke-width="0.9"/>
<line x1="103.62412209816898" y1="345.5" x2="103.62412209816898" y2="347.3" stroke="#000" stroke-width="0.9"/>
<line x1="106.22284781962162" y1="345.5" x2="106.22284781962162" y2="347.3" stroke="#000" stroke-width="0.9"/>
<line x1="108.2385760901892" y1="345.5" x2="108.2385760901892" y2="347.3" stroke="#000" stroke-width="0.9"/>
<line x1="109.88554600797978" y1="345.5" x2="109.88554600797978" y2="347.3" stroke="#000" stroke-width="0.9"/>
<line x1="111.27803923229655" y1="345.5" x2="111.27803923229655" y2="347.3" stroke="#000" stroke-width="0.9"/>
<line x1="112.48427172943242" y1="345.5" x2="112.48427172943242" y2="347.3" stroke="#000" stroke-width="0.9"/>
<line x1="113.54824419633796" y1="345.5" x2="113.54824419633796" y2="347.3" stroke="#000" stroke-width="0.9"/>
<line x1="36" y1="345.5" x2="36" y2="347.3" stroke="#000" stroke-width="0.9"/>
<line x1="40" y1="345.5" x2="40" y2="347.3" stroke="#000" stroke-width="0.9"/>
<line x1="49" y1="345.5" x2="49" y2="347.3" stroke="#000" stroke-width="0.9"/>
<line x1="54" y1="345.5" x2="54" y2="347.3" stroke="#000" stroke-width="0.9"/>
<line x1="59" y1="345.5" x2="59" y2="347.3" stroke="#000" stroke-width="0.9"/>
<line x1="64" y1="345.5" x2="64" y2="347.3" stroke="#000" stroke-width="0.9"/>
<path d="M8.7,335.5 V365.5 H39.4" fill="none" stroke="#000" stroke-width="2.0" stroke-linejoin="miter"/>
<path d="M3.6999999999999993,342.0 L8.7,335.5 L13.7,342.0" fill="none" stroke="#000" stroke-width="2.0"/>
<path d="M31.9,360.5 L39.4,365.5 L31.9,370.5" fill="none" stroke="#000" stroke-width="2.0"/>
<text x="44" y="370.7" text-anchor="start" style="font-size:15.3px;" fill="#000">CD45.2</text>
<text x="14.5" y="330.5" text-anchor="start" style="font-size:15.3px;" fill="#000" transform="rotate(-90 14.5 330.5)">CD45.1</text>
<text x="204.2" y="13.2" text-anchor="middle" style="font-size:16px;" fill="#000">%</text>
<path d="M188.7,29.8 V26 H220.9 V29.8" fill="none" stroke="#000" stroke-width="1.8"/>
<text x="204.8" y="0" text-anchor="middle" style="font-size:10px;" fill="#000"></text>
<text x="193.57" y="26.669999999999998" text-anchor="start" style="font-size:13px;font-weight:bold;" fill="#000" letter-spacing="1.0">****</text>
<line x1="175.2" y1="30" x2="175.2" y2="147.3" stroke="#000" stroke-width="1.8"/>
<line x1="171.7" y1="30.9" x2="175.2" y2="30.9" stroke="#000" stroke-width="1.8"/>
<text x="171.39999999999998" y="35.9" text-anchor="end" style="font-size:14.5px;" fill="#000">100</text>
<line x1="171.7" y1="54.2" x2="175.2" y2="54.2" stroke="#000" stroke-width="1.8"/>
<text x="171.39999999999998" y="59.2" text-anchor="end" style="font-size:14.5px;" fill="#000">80</text>
<line x1="171.7" y1="77.5" x2="175.2" y2="77.5" stroke="#000" stroke-width="1.8"/>
<text x="171.39999999999998" y="82.5" text-anchor="end" style="font-size:14.5px;" fill="#000">60</text>
<line x1="171.7" y1="100.7" x2="175.2" y2="100.7" stroke="#000" stroke-width="1.8"/>
<text x="171.39999999999998" y="105.7" text-anchor="end" style="font-size:14.5px;" fill="#000">40</text>
<line x1="171.7" y1="124.0" x2="175.2" y2="124.0" stroke="#000" stroke-width="1.8"/>
<text x="171.39999999999998" y="129.0" text-anchor="end" style="font-size:14.5px;" fill="#000">20</text>
<line x1="171.7" y1="147.3" x2="175.2" y2="147.3" stroke="#000" stroke-width="1.8"/>
<text x="171.39999999999998" y="152.3" text-anchor="end" style="font-size:14.5px;" fill="#000">0</text>
<line x1="190.35" y1="32.7" x2="190.35" y2="31.8" stroke="#000" stroke-width="1.8"/>
<line x1="186.75" y1="31.8" x2="193.95" y2="31.8" stroke="#000" stroke-width="1.8"/>
<rect x="184.0" y="32.7" width="12.699999999999989" height="114.60000000000001" fill="#7f7f7f" stroke="#000" stroke-width="2.0"/>
<line x1="190.35" y1="32.7" x2="190.35" y2="33.60000000000001" stroke="#000" stroke-width="1.8"/>
<line x1="186.75" y1="33.60000000000001" x2="193.95" y2="33.60000000000001" stroke="#000" stroke-width="1.8"/>
<rect x="215.5" y="144.6" width="7" height="2.7" fill="#000"/>
<line x1="174.29999999999998" y1="147.3" x2="235.4" y2="147.3" stroke="#000" stroke-width="1.8"/>
<line x1="190" y1="147.3" x2="190" y2="152.3" stroke="#000" stroke-width="1.8"/>
<line x1="218.9" y1="147.3" x2="218.9" y2="152.3" stroke="#000" stroke-width="1.8"/>
<text x="196.5" y="163.6" text-anchor="end" style="font-size:15px;" fill="#000" transform="rotate(-45 196.5 163.6)">WT</text>
<text x="225.5" y="163.1" text-anchor="end" style="font-size:15px;" fill="#000" transform="rotate(-45 225.5 163.1)"><tspan font-style="italic">Batf3</tspan><tspan font-style="italic" font-size="55%" baseline-shift="super">-/-</tspan></text>
<text x="144.8" y="87.3" text-anchor="middle" style="font-size:15.9px;" fill="#000" transform="rotate(-90 144.8 87.3)">% of donor OT I cells</text>
<text x="309.3" y="13" text-anchor="middle" style="font-size:16px;" fill="#000">#</text>
<path d="M293.8,41.900000000000006 V37.7 H326.3 V41.900000000000006" fill="none" stroke="#000" stroke-width="1.8"/>
<text x="310.05" y="0" text-anchor="middle" style="font-size:10px;" fill="#000"></text>
<text x="305.17" y="38.87" text-anchor="start" style="font-size:13px;font-weight:bold;" fill="#000" letter-spacing="1.0">**</text>
<line x1="279.6" y1="28.6" x2="279.6" y2="146" stroke="#000" stroke-width="1.8"/>
<line x1="275.6" y1="29.6" x2="279.6" y2="29.6" stroke="#000" stroke-width="1.8"/>
<text x="275.3" y="34.6" text-anchor="end" style="font-size:14.5px;" fill="#000">10<tspan font-size="66%" baseline-shift="super">6</tspan></text>
<line x1="275.6" y1="58.5" x2="279.6" y2="58.5" stroke="#000" stroke-width="1.8"/>
<text x="275.3" y="63.5" text-anchor="end" style="font-size:14.5px;" fill="#000">10<tspan font-size="66%" baseline-shift="super">5</tspan></text>
<line x1="275.6" y1="87.4" x2="279.6" y2="87.4" stroke="#000" stroke-width="1.8"/>
<text x="275.3" y="92.4" text-anchor="end" style="font-size:14.5px;" fill="#000">10<tspan font-size="66%" baseline-shift="super">4</tspan></text>
<line x1="275.6" y1="116.3" x2="279.6" y2="116.3" stroke="#000" stroke-width="1.8"/>
<text x="275.3" y="121.3" text-anchor="end" style="font-size:14.5px;" fill="#000">10<tspan font-size="66%" baseline-shift="super">3</tspan></text>
<line x1="275.6" y1="145.2" x2="279.6" y2="145.2" stroke="#000" stroke-width="1.8"/>
<text x="275.3" y="150.2" text-anchor="end" style="font-size:14.5px;" fill="#000">10<tspan font-size="66%" baseline-shift="super">2</tspan></text>
<line x1="276.3" y1="49.800233125310946" x2="279.6" y2="49.800233125310946" stroke="#000" stroke-width="1.7"/>
<line x1="276.3" y1="44.71119573860176" x2="279.6" y2="44.71119573860176" stroke="#000" stroke-width="1.7"/>
<line x1="276.3" y1="41.10046625062189" x2="279.6" y2="41.10046625062189" stroke="#000" stroke-width="1.7"/>
<line x1="276.3" y1="38.299766874689055" x2="279.6" y2="38.299766874689055" stroke="#000" stroke-width="1.7"/>
<line x1="276.3" y1="36.0114288639127" x2="279.6" y2="36.0114288639127" stroke="#000" stroke-width="1.7"/>
<line x1="276.3" y1="34.076666643587984" x2="279.6" y2="34.076666643587984" stroke="#000" stroke-width="1.7"/>
<line x1="276.3" y1="32.40069937593283" x2="279.6" y2="32.40069937593283" stroke="#000" stroke-width="1.7"/>
<line x1="276.3" y1="30.92239147720351" x2="279.6" y2="30.92239147720351" stroke="#000" stroke-width="1.7"/>
<line x1="276.3" y1="78.70023312531094" x2="279.6" y2="78.70023312531094" stroke="#000" stroke-width="1.7"/>
<line x1="276.3" y1="73.61119573860177" x2="279.6" y2="73.61119573860177" stroke="#000" stroke-width="1.7"/>
<line x1="276.3" y1="70.00046625062188" x2="279.6" y2="70.00046625062188" stroke="#000" stroke-width="1.7"/>
<line x1="276.3" y1="67.19976687468906" x2="279.6" y2="67.19976687468906" stroke="#000" stroke-width="1.7"/>
<line x1="276.3" y1="64.9114288639127" x2="279.6" y2="64.9114288639127" stroke="#000" stroke-width="1.7"/>
<line x1="276.3" y1="62.976666643587976" x2="279.6" y2="62.976666643587976" stroke="#000" stroke-width="1.7"/>
<line x1="276.3" y1="61.30069937593284" x2="279.6" y2="61.30069937593284" stroke="#000" stroke-width="1.7"/>
<line x1="276.3" y1="59.82239147720351" x2="279.6" y2="59.82239147720351" stroke="#000" stroke-width="1.7"/>
<line x1="276.3" y1="107.60023312531095" x2="279.6" y2="107.60023312531095" stroke="#000" stroke-width="1.7"/>
<line x1="276.3" y1="102.51119573860176" x2="279.6" y2="102.51119573860176" stroke="#000" stroke-width="1.7"/>
<line x1="276.3" y1="98.90046625062189" x2="279.6" y2="98.90046625062189" stroke="#000" stroke-width="1.7"/>
<line x1="276.3" y1="96.09976687468907" x2="279.6" y2="96.09976687468907" stroke="#000" stroke-width="1.7"/>
<line x1="276.3" y1="93.81142886391271" x2="279.6" y2="93.81142886391271" stroke="#000" stroke-width="1.7"/>
<line x1="276.3" y1="91.87666664358798" x2="279.6" y2="91.87666664358798" stroke="#000" stroke-width="1.7"/>
<line x1="276.3" y1="90.20069937593283" x2="279.6" y2="90.20069937593283" stroke="#000" stroke-width="1.7"/>
<line x1="276.3" y1="88.72239147720352" x2="279.6" y2="88.72239147720352" stroke="#000" stroke-width="1.7"/>
<line x1="276.3" y1="136.50023312531093" x2="279.6" y2="136.50023312531093" stroke="#000" stroke-width="1.7"/>
<line x1="276.3" y1="131.41119573860175" x2="279.6" y2="131.41119573860175" stroke="#000" stroke-width="1.7"/>
<line x1="276.3" y1="127.80046625062188" x2="279.6" y2="127.80046625062188" stroke="#000" stroke-width="1.7"/>
<line x1="276.3" y1="124.99976687468904" x2="279.6" y2="124.99976687468904" stroke="#000" stroke-width="1.7"/>
<line x1="276.3" y1="122.71142886391269" x2="279.6" y2="122.71142886391269" stroke="#000" stroke-width="1.7"/>
<line x1="276.3" y1="120.77666664358797" x2="279.6" y2="120.77666664358797" stroke="#000" stroke-width="1.7"/>
<line x1="276.3" y1="119.10069937593283" x2="279.6" y2="119.10069937593283" stroke="#000" stroke-width="1.7"/>
<line x1="276.3" y1="117.62239147720351" x2="279.6" y2="117.62239147720351" stroke="#000" stroke-width="1.7"/>
<line x1="295.35" y1="50.5" x2="295.35" y2="47.6" stroke="#000" stroke-width="1.8"/>
<line x1="291.75" y1="47.6" x2="298.95000000000005" y2="47.6" stroke="#000" stroke-width="1.8"/>
<rect x="289.3" y="50.5" width="12.099999999999966" height="96.1" fill="#7f7f7f" stroke="#000" stroke-width="2.0"/>
<line x1="295.35" y1="50.5" x2="295.35" y2="53.4" stroke="#000" stroke-width="1.8"/>
<line x1="291.75" y1="53.4" x2="298.95000000000005" y2="53.4" stroke="#000" stroke-width="1.8"/>
<line x1="324.8" y1="110" x2="324.8" y2="106" stroke="#000" stroke-width="1.8"/>
<line x1="321.2" y1="106" x2="328.40000000000003" y2="106" stroke="#000" stroke-width="1.8"/>
<rect x="318.3" y="110" width="13.0" height="36.599999999999994" fill="#fff" stroke="#000" stroke-width="2.0"/>
<line x1="324.8" y1="110" x2="324.8" y2="114" stroke="#000" stroke-width="1.8"/>
<line x1="321.2" y1="114" x2="328.40000000000003" y2="114" stroke="#000" stroke-width="1.8"/>
<line x1="278.70000000000005" y1="146.6" x2="340" y2="146.6" stroke="#000" stroke-width="1.8"/>
<line x1="295" y1="146.6" x2="295" y2="151.6" stroke="#000" stroke-width="1.8"/>
<line x1="324.5" y1="146.6" x2="324.5" y2="151.6" stroke="#000" stroke-width="1.8"/>
<text x="303" y="161.6" text-anchor="end" style="font-size:15px;" fill="#000" transform="rotate(-45 303 161.6)">WT</text>
<text x="332" y="163.6" text-anchor="end" style="font-size:15px;" fill="#000" transform="rotate(-45 332 163.6)"><tspan font-style="italic">Batf3</tspan><tspan font-style="italic" font-size="55%" baseline-shift="super">-/-</tspan></text>
<text x="250.8" y="88.5" text-anchor="middle" style="font-size:16px;" fill="#000" transform="rotate(-90 250.8 88.5)">OT I cells (#)</text>
<text x="204" y="218.3" text-anchor="middle" style="font-size:16px;" fill="#000">%</text>
<path d="M189,237.6 V233.6 H220.8 V237.6" fill="none" stroke="#000" stroke-width="1.8"/>
<text x="204.9" y="0" text-anchor="middle" style="font-size:10px;" fill="#000"></text>
<text x="193.67000000000002" y="235.77" text-anchor="start" style="font-size:13px;font-weight:bold;" fill="#000" letter-spacing="1.0">****</text>
<line x1="174.6" y1="234.5" x2="174.6" y2="352.9" stroke="#000" stroke-width="1.8"/>
<line x1="171.1" y1="235.6" x2="174.6" y2="235.6" stroke="#000" stroke-width="1.8"/>
<text x="170.79999999999998" y="240.6" text-anchor="end" style="font-size:14.5px;" fill="#000">100</text>
<line x1="171.1" y1="259.1" x2="174.6" y2="259.1" stroke="#000" stroke-width="1.8"/>
<text x="170.79999999999998" y="264.1" text-anchor="end" style="font-size:14.5px;" fill="#000">80</text>
<line x1="171.1" y1="282.5" x2="174.6" y2="282.5" stroke="#000" stroke-width="1.8"/>
<text x="170.79999999999998" y="287.5" text-anchor="end" style="font-size:14.5px;" fill="#000">60</text>
<line x1="171.1" y1="306.0" x2="174.6" y2="306.0" stroke="#000" stroke-width="1.8"/>
<text x="170.79999999999998" y="311.0" text-anchor="end" style="font-size:14.5px;" fill="#000">40</text>
<line x1="171.1" y1="329.4" x2="174.6" y2="329.4" stroke="#000" stroke-width="1.8"/>
<text x="170.79999999999998" y="334.4" text-anchor="end" style="font-size:14.5px;" fill="#000">20</text>
<line x1="171.1" y1="352.9" x2="174.6" y2="352.9" stroke="#000" stroke-width="1.8"/>
<text x="170.79999999999998" y="357.9" text-anchor="end" style="font-size:14.5px;" fill="#000">0</text>
<line x1="190.5" y1="247.1" x2="190.5" y2="241.9" stroke="#000" stroke-width="1.8"/>
<line x1="186.9" y1="241.9" x2="194.1" y2="241.9" stroke="#000" stroke-width="1.8"/>
<rect x="184.2" y="247.1" width="12.600000000000023" height="105.79999999999998" fill="#7f7f7f" stroke="#000" stroke-width="2.0"/>
<line x1="190.5" y1="247.1" x2="190.5" y2="252.29999999999998" stroke="#000" stroke-width="1.8"/>
<line x1="186.9" y1="252.29999999999998" x2="194.1" y2="252.29999999999998" stroke="#000" stroke-width="1.8"/>
<line x1="219.35" y1="343.8" x2="219.35" y2="340" stroke="#000" stroke-width="1.8"/>
<line x1="215.75" y1="340" x2="222.95" y2="340" stroke="#000" stroke-width="1.8"/>
<rect x="213.6" y="343.8" width="11.5" height="9.099999999999966" fill="#fff" stroke="#000" stroke-width="2.0"/>
<line x1="219.35" y1="343.8" x2="219.35" y2="347.6" stroke="#000" stroke-width="1.8"/>
<line x1="215.75" y1="347.6" x2="222.95" y2="347.6" stroke="#000" stroke-width="1.8"/>
<line x1="173.7" y1="352.9" x2="235.4" y2="352.9" stroke="#000" stroke-width="1.8"/>
<line x1="190" y1="352.9" x2="190" y2="357.9" stroke="#000" stroke-width="1.8"/>
<line x1="219.5" y1="352.9" x2="219.5" y2="357.9" stroke="#000" stroke-width="1.8"/>
<text x="196.5" y="369.1" text-anchor="end" style="font-size:15px;" fill="#000" transform="rotate(-45 196.5 369.1)">WT</text>
<text x="226" y="368.6" text-anchor="end" style="font-size:15px;" fill="#000" transform="rotate(-45 226 368.6)"><tspan font-style="italic">Batf3</tspan><tspan font-style="italic" font-size="55%" baseline-shift="super">-/-</tspan></text>
<text x="144.8" y="293.3" text-anchor="middle" style="font-size:15.9px;" fill="#000" transform="rotate(-90 144.8 293.3)">% of donor OT I cells</text>
<text x="309.3" y="218.3" text-anchor="middle" style="font-size:16px;" fill="#000">#</text>
<path d="M294.5,234.60000000000002 V230.8 H326.2 V234.60000000000002" fill="none" stroke="#000" stroke-width="1.8"/>
<text x="310.35" y="233.7" text-anchor="middle" style="font-size:15.5px;" fill="#000"></text>
<text x="305.57" y="231.17" text-anchor="start" style="font-size:13px;font-weight:bold;" fill="#000" letter-spacing="1.0">**</text>
<line x1="278.6" y1="234.2" x2="278.6" y2="352.9" stroke="#000" stroke-width="1.8"/>
<line x1="274.6" y1="235.2" x2="278.6" y2="235.2" stroke="#000" stroke-width="1.8"/>
<text x="274.3" y="240.2" text-anchor="end" style="font-size:14.5px;" fill="#000">10<tspan font-size="66%" baseline-shift="super">5</tspan></text>
<line x1="274.6" y1="274.4" x2="278.6" y2="274.4" stroke="#000" stroke-width="1.8"/>
<text x="274.3" y="279.4" text-anchor="end" style="font-size:14.5px;" fill="#000">10<tspan font-size="66%" baseline-shift="super">4</tspan></text>
<line x1="274.6" y1="313.6" x2="278.6" y2="313.6" stroke="#000" stroke-width="1.8"/>
<text x="274.3" y="318.6" text-anchor="end" style="font-size:14.5px;" fill="#000">10<tspan font-size="66%" baseline-shift="super">3</tspan></text>
<line x1="274.6" y1="352.8" x2="278.6" y2="352.8" stroke="#000" stroke-width="1.8"/>
<text x="274.3" y="357.8" text-anchor="end" style="font-size:14.5px;" fill="#000">10<tspan font-size="66%" baseline-shift="super">2</tspan></text>
<line x1="275.3" y1="262.5996241699719" x2="278.6" y2="262.5996241699719" stroke="#000" stroke-width="1.7"/>
<line x1="275.3" y1="255.69684681498921" x2="278.6" y2="255.69684681498921" stroke="#000" stroke-width="1.7"/>
<line x1="275.3" y1="250.79924833994386" x2="278.6" y2="250.79924833994386" stroke="#000" stroke-width="1.7"/>
<line x1="275.3" y1="247.00037583002805" x2="278.6" y2="247.00037583002805" stroke="#000" stroke-width="1.7"/>
<line x1="275.3" y1="243.89647098496116" x2="278.6" y2="243.89647098496116" stroke="#000" stroke-width="1.7"/>
<line x1="275.3" y1="241.27215683144112" x2="278.6" y2="241.27215683144112" stroke="#000" stroke-width="1.7"/>
<line x1="275.3" y1="238.9988725099158" x2="278.6" y2="238.9988725099158" stroke="#000" stroke-width="1.7"/>
<line x1="275.3" y1="236.99369362997845" x2="278.6" y2="236.99369362997845" stroke="#000" stroke-width="1.7"/>
<line x1="275.3" y1="301.79962416997193" x2="278.6" y2="301.79962416997193" stroke="#000" stroke-width="1.7"/>
<line x1="275.3" y1="294.89684681498926" x2="278.6" y2="294.89684681498926" stroke="#000" stroke-width="1.7"/>
<line x1="275.3" y1="289.99924833994385" x2="278.6" y2="289.99924833994385" stroke="#000" stroke-width="1.7"/>
<line x1="275.3" y1="286.20037583002807" x2="278.6" y2="286.20037583002807" stroke="#000" stroke-width="1.7"/>
<line x1="275.3" y1="283.0964709849612" x2="278.6" y2="283.0964709849612" stroke="#000" stroke-width="1.7"/>
<line x1="275.3" y1="280.4721568314411" x2="278.6" y2="280.4721568314411" stroke="#000" stroke-width="1.7"/>
<line x1="275.3" y1="278.1988725099158" x2="278.6" y2="278.1988725099158" stroke="#000" stroke-width="1.7"/>
<line x1="275.3" y1="276.19369362997844" x2="278.6" y2="276.19369362997844" stroke="#000" stroke-width="1.7"/>
<line x1="275.3" y1="340.999624169972" x2="278.6" y2="340.999624169972" stroke="#000" stroke-width="1.7"/>
<line x1="275.3" y1="334.09684681498925" x2="278.6" y2="334.09684681498925" stroke="#000" stroke-width="1.7"/>
<line x1="275.3" y1="329.1992483399439" x2="278.6" y2="329.1992483399439" stroke="#000" stroke-width="1.7"/>
<line x1="275.3" y1="325.40037583002805" x2="278.6" y2="325.40037583002805" stroke="#000" stroke-width="1.7"/>
<line x1="275.3" y1="322.29647098496116" x2="278.6" y2="322.29647098496116" stroke="#000" stroke-width="1.7"/>
<line x1="275.3" y1="319.67215683144116" x2="278.6" y2="319.67215683144116" stroke="#000" stroke-width="1.7"/>
<line x1="275.3" y1="317.3988725099158" x2="278.6" y2="317.3988725099158" stroke="#000" stroke-width="1.7"/>
<line x1="275.3" y1="315.3936936299785" x2="278.6" y2="315.3936936299785" stroke="#000" stroke-width="1.7"/>
<line x1="294.35" y1="243" x2="294.35" y2="238.7" stroke="#000" stroke-width="1.8"/>
<line x1="290.75" y1="238.7" x2="297.95000000000005" y2="238.7" stroke="#000" stroke-width="1.8"/>
<rect x="288.1" y="243" width="12.5" height="109.89999999999998" fill="#7f7f7f" stroke="#000" stroke-width="2.0"/>
<line x1="294.35" y1="243" x2="294.35" y2="247.3" stroke="#000" stroke-width="1.8"/>
<line x1="290.75" y1="247.3" x2="297.95000000000005" y2="247.3" stroke="#000" stroke-width="1.8"/>
<line x1="323.1" y1="291.2" x2="323.1" y2="286.2" stroke="#000" stroke-width="1.8"/>
<line x1="319.5" y1="286.2" x2="326.70000000000005" y2="286.2" stroke="#000" stroke-width="1.8"/>
<rect x="316.2" y="291.2" width="13.800000000000011" height="61.69999999999999" fill="#fff" stroke="#000" stroke-width="2.0"/>
<line x1="323.1" y1="291.2" x2="323.1" y2="296.2" stroke="#000" stroke-width="1.8"/>
<line x1="319.5" y1="296.2" x2="326.70000000000005" y2="296.2" stroke="#000" stroke-width="1.8"/>
<line x1="277.70000000000005" y1="352.9" x2="340" y2="352.9" stroke="#000" stroke-width="1.8"/>
<line x1="293.7" y1="352.9" x2="293.7" y2="357.9" stroke="#000" stroke-width="1.8"/>
<line x1="323.2" y1="352.9" x2="323.2" y2="357.9" stroke="#000" stroke-width="1.8"/>
<text x="301.7" y="368.1" text-anchor="end" style="font-size:15px;" fill="#000" transform="rotate(-45 301.7 368.1)">WT</text>
<text x="331.2" y="370.1" text-anchor="end" style="font-size:15px;" fill="#000" transform="rotate(-45 331.2 370.1)"><tspan font-style="italic">Batf3</tspan><tspan font-style="italic" font-size="55%" baseline-shift="super">-/-</tspan></text>
<text x="250.8" y="294" text-anchor="middle" style="font-size:16px;" fill="#000" transform="rotate(-90 250.8 294)">OT I cells (#)</text>
<text x="465.5" y="17.2" text-anchor="middle" style="font-size:15.5px;" fill="#000">Blood</text>
<line x1="415.7" y1="43.6" x2="415.7" y2="159.5" stroke="#000" stroke-width="1.8"/>
<line x1="411.7" y1="44.69999999999999" x2="415.7" y2="44.69999999999999" stroke="#000" stroke-width="1.8"/>
<text x="411.4" y="49.89999999999999" text-anchor="end" style="font-size:15.2px;" fill="#000">10<tspan font-size="64%" baseline-shift="super">6</tspan></text>
<line x1="411.7" y1="67.47999999999999" x2="415.7" y2="67.47999999999999" stroke="#000" stroke-width="1.8"/>
<text x="411.4" y="72.67999999999999" text-anchor="end" style="font-size:15.2px;" fill="#000">10<tspan font-size="64%" baseline-shift="super">5</tspan></text>
<line x1="411.7" y1="90.25999999999999" x2="415.7" y2="90.25999999999999" stroke="#000" stroke-width="1.8"/>
<text x="411.4" y="95.46" text-anchor="end" style="font-size:15.2px;" fill="#000">10<tspan font-size="64%" baseline-shift="super">4</tspan></text>
<line x1="411.7" y1="113.03999999999999" x2="415.7" y2="113.03999999999999" stroke="#000" stroke-width="1.8"/>
<text x="411.4" y="118.24" text-anchor="end" style="font-size:15.2px;" fill="#000">10<tspan font-size="64%" baseline-shift="super">3</tspan></text>
<line x1="411.7" y1="135.82" x2="415.7" y2="135.82" stroke="#000" stroke-width="1.8"/>
<text x="411.4" y="141.01999999999998" text-anchor="end" style="font-size:15.2px;" fill="#000">10<tspan font-size="64%" baseline-shift="super">2</tspan></text>
<line x1="411.7" y1="158.6" x2="415.7" y2="158.6" stroke="#000" stroke-width="1.8"/>
<text x="411.4" y="163.79999999999998" text-anchor="end" style="font-size:15.2px;" fill="#000">10<tspan font-size="64%" baseline-shift="super">1</tspan></text>
<line x1="414.8" y1="158.8" x2="518" y2="158.8" stroke="#000" stroke-width="1.8"/>
<line x1="438.6" y1="158.8" x2="438.6" y2="163.8" stroke="#000" stroke-width="1.8"/>
<line x1="492.5" y1="158.8" x2="492.5" y2="163.8" stroke="#000" stroke-width="1.8"/>
<text x="437.5" y="178.6" text-anchor="middle" style="font-size:15px;" fill="#000">WT</text>
<text x="474.2" y="178.6" text-anchor="start" style="font-size:15px;" fill="#000"><tspan font-style="italic">Batf3</tspan><tspan font-style="italic" font-size="55%" baseline-shift="super">-/-</tspan></text>
<text x="381.3" y="102.5" text-anchor="middle" style="font-size:15.9px;" fill="#000" transform="rotate(-90 381.3 102.5)">OT I cells (#)</text>
<rect x="445.9" y="49.8" width="7" height="24.9" fill="#000"/>
<line x1="428.8" y1="79.5" x2="447" y2="61.5" stroke="#000" stroke-width="1.9"/>
<line x1="428.8" y1="82.5" x2="447" y2="63.5" stroke="#000" stroke-width="1.9"/>
<line x1="428.8" y1="86" x2="447" y2="65.5" stroke="#000" stroke-width="1.9"/>
<line x1="428.8" y1="90" x2="447" y2="67.5" stroke="#000" stroke-width="1.9"/>
<line x1="428.8" y1="94" x2="447" y2="69.5" stroke="#000" stroke-width="1.9"/>
<line x1="428.8" y1="98" x2="447" y2="71.5" stroke="#000" stroke-width="1.9"/>
<line x1="428.8" y1="102" x2="447" y2="73" stroke="#000" stroke-width="1.9"/>
<line x1="428.8" y1="106.2" x2="447" y2="74" stroke="#000" stroke-width="1.9"/>
<polygon points="428.8,76.35 432.25,82.05 425.35,82.05" fill="#000" stroke="#000" stroke-width="1.4" stroke-linejoin="miter"/>
<circle cx="428.8" cy="80.25" r="0.55" fill="#999"/>
<polygon points="428.8,79.35 432.25,85.05 425.35,85.05" fill="#000" stroke="#000" stroke-width="1.4" stroke-linejoin="miter"/>
<circle cx="428.8" cy="83.25" r="0.55" fill="#999"/>
<polygon points="428.8,82.85 432.25,88.55 425.35,88.55" fill="#000" stroke="#000" stroke-width="1.4" stroke-linejoin="miter"/>
<circle cx="428.8" cy="86.75" r="0.55" fill="#999"/>
<polygon points="428.8,86.85 432.25,92.55 425.35,92.55" fill="#000" stroke="#000" stroke-width="1.4" stroke-linejoin="miter"/>
<circle cx="428.8" cy="90.75" r="0.55" fill="#999"/>
<polygon points="428.8,90.85 432.25,96.55 425.35,96.55" fill="#000" stroke="#000" stroke-width="1.4" stroke-linejoin="miter"/>
<circle cx="428.8" cy="94.75" r="0.55" fill="#999"/>
<polygon points="428.8,94.85 432.25,100.55 425.35,100.55" fill="#000" stroke="#000" stroke-width="1.4" stroke-linejoin="miter"/>
<circle cx="428.8" cy="98.75" r="0.55" fill="#999"/>
<polygon points="428.8,98.85 432.25,104.55 425.35,104.55" fill="#000" stroke="#000" stroke-width="1.4" stroke-linejoin="miter"/>
<circle cx="428.8" cy="102.75" r="0.55" fill="#999"/>
<polygon points="428.8,102.3 433.3,109.8 424.3,109.8" fill="#000" stroke="#000" stroke-width="1.2"/>
<circle cx="428.8" cy="107.3" r="0.8" fill="#999"/>
<rect x="447.7" y="51.6" width="3.4" height="3.2" fill="#8a8a8a"/>
<rect x="447.7" y="57.8" width="3.4" height="3.2" fill="#8a8a8a"/>
<rect x="447.7" y="64.30000000000001" width="3.4" height="3.2" fill="#8a8a8a"/>
<rect x="447.7" y="69.5" width="3.4" height="3.2" fill="#8a8a8a"/>
<rect x="499.3" y="97.7" width="7.2" height="21.5" fill="#000"/>
<line x1="482.6" y1="120.5" x2="500.5" y2="104.5" stroke="#000" stroke-width="1.9"/>
<line x1="482.6" y1="123.5" x2="500.5" y2="107.5" stroke="#000" stroke-width="1.9"/>
<line x1="482.6" y1="127" x2="500.5" y2="110.5" stroke="#000" stroke-width="1.9"/>
<line x1="482.6" y1="131" x2="500.5" y2="113" stroke="#000" stroke-width="1.9"/>
<line x1="482.6" y1="135" x2="500.5" y2="115.5" stroke="#000" stroke-width="1.9"/>
<line x1="482.6" y1="139" x2="500.5" y2="117.5" stroke="#000" stroke-width="1.9"/>
<line x1="482.6" y1="141.5" x2="500.5" y2="118.5" stroke="#000" stroke-width="1.9"/>
<polygon points="482.6,117.35 486.05,123.05 479.15000000000003,123.05" fill="#000" stroke="#000" stroke-width="1.4" stroke-linejoin="miter"/>
<circle cx="482.6" cy="121.25" r="0.55" fill="#999"/>
<polygon points="482.6,120.35 486.05,126.05 479.15000000000003,126.05" fill="#000" stroke="#000" stroke-width="1.4" stroke-linejoin="miter"/>
<circle cx="482.6" cy="124.25" r="0.55" fill="#999"/>
<polygon points="482.6,123.85 486.05,129.55 479.15000000000003,129.55" fill="#000" stroke="#000" stroke-width="1.4" stroke-linejoin="miter"/>
<circle cx="482.6" cy="127.75" r="0.55" fill="#999"/>
<polygon points="482.6,127.85 486.05,133.55 479.15000000000003,133.55" fill="#000" stroke="#000" stroke-width="1.4" stroke-linejoin="miter"/>
<circle cx="482.6" cy="131.75" r="0.55" fill="#999"/>
<polygon points="482.6,131.85 486.05,137.55 479.15000000000003,137.55" fill="#000" stroke="#000" stroke-width="1.4" stroke-linejoin="miter"/>
<circle cx="482.6" cy="135.75" r="0.55" fill="#999"/>
<polygon points="482.6,135.85 486.05,141.55 479.15000000000003,141.55" fill="#000" stroke="#000" stroke-width="1.4" stroke-linejoin="miter"/>
<circle cx="482.6" cy="139.75" r="0.55" fill="#999"/>
<polygon points="482.6,137.8 487.1,145.3 478.1,145.3" fill="#000" stroke="#000" stroke-width="1.2"/>
<circle cx="482.6" cy="142.8" r="0.8" fill="#999"/>
<rect x="501.2" y="99.9" width="3.4" height="3.2" fill="#8a8a8a"/>
<rect x="501.2" y="106.4" width="3.4" height="3.2" fill="#8a8a8a"/>
<rect x="501.2" y="112.0" width="3.4" height="3.2" fill="#8a8a8a"/>
<text x="438.2" y="42.3" text-anchor="middle" style="font-size:13.8px;" fill="#000">20.9x</text>
<text x="430.87" y="59.37" text-anchor="start" style="font-size:13px;font-weight:bold;" fill="#000" letter-spacing="1.0">**</text>
<text x="491.2" y="89.6" text-anchor="middle" style="font-size:13.8px;" fill="#000">9.4x</text>
<text x="483.37" y="104.37" text-anchor="start" style="font-size:13px;font-weight:bold;" fill="#000" letter-spacing="1.0">**</text>
<line x1="432.8" y1="194.8" x2="446" y2="194.8" stroke="#000" stroke-width="2"/>
<polygon points="438.6,190.6 443.6,198 433.6,198" fill="#000" stroke="#000" stroke-width="0.8"/>
<circle cx="438.6" cy="195.6" r="0.8" fill="#999"/>
<text x="453.4" y="199.7" text-anchor="start" style="font-size:15.7px;" fill="#000">30 dpi</text>
<line x1="432.8" y1="210.7" x2="446" y2="210.7" stroke="#000" stroke-width="2"/>
<rect x="434.6" y="207.2" width="8" height="6.8" fill="#000"/>
<rect x="436.9" y="209.1" width="3.4" height="3.1" fill="#8a8a8a"/>
<text x="453.4" y="215.4" text-anchor="start" style="font-size:15.7px;" fill="#000">6 dpr</text>
<path d="M37.00,524.90 C37.33,524.46 38.25,525.19 39.00,522.26 C39.75,519.33 40.75,513.02 41.50,507.30 C42.25,501.58 42.88,494.10 43.50,487.94 C44.12,481.78 44.53,476.21 45.20,470.34 C45.87,464.47 46.78,457.73 47.50,452.74 C48.22,447.75 48.88,443.06 49.50,440.42 C50.12,437.78 50.53,436.46 51.20,436.90 C51.87,437.34 52.78,439.83 53.50,443.06 C54.22,446.29 54.87,451.71 55.50,456.26 C56.13,460.81 56.67,465.94 57.30,470.34 C57.93,474.74 58.63,478.85 59.30,482.66 C59.97,486.47 60.52,489.85 61.30,493.22 C62.08,496.59 63.10,500.11 64.00,502.90 C64.90,505.69 65.70,507.59 66.70,509.94 C67.70,512.29 68.65,514.93 70.00,516.98 C71.35,519.03 73.13,521.01 74.80,522.26 C76.47,523.51 78.30,524.02 80.00,524.46 C81.70,524.90 84.17,524.83 85.00,524.90" fill="none" stroke="#000" stroke-width="2.3" stroke-linejoin="round"/>
<path d="M37.50,524.90 C37.83,524.46 38.75,524.90 39.50,522.26 C40.25,519.62 41.17,514.49 42.00,509.06 C42.83,503.63 43.67,495.86 44.50,489.70 C45.33,483.54 46.17,477.09 47.00,472.10 C47.83,467.11 48.75,462.71 49.50,459.78 C50.25,456.85 50.98,455.67 51.50,454.50 C52.02,453.33 52.18,452.74 52.60,452.74 C53.02,452.74 53.43,452.74 54.00,454.50 C54.57,456.26 55.33,460.37 56.00,463.30 C56.67,466.23 57.33,469.17 58.00,472.10 C58.67,475.03 59.25,477.67 60.00,480.90 C60.75,484.13 61.60,488.23 62.50,491.46 C63.40,494.69 64.32,497.18 65.40,500.26 C66.48,503.34 67.65,507.01 69.00,509.94 C70.35,512.87 71.87,515.66 73.50,517.86 C75.13,520.06 77.05,521.97 78.80,523.14 C80.55,524.31 83.13,524.61 84.00,524.90" fill="none" stroke="#8c8c8c" stroke-width="2.6" stroke-linejoin="round"/>
<path d="M35.50,524.90 C35.83,524.31 36.83,524.31 37.50,521.38 C38.17,518.45 38.88,514.05 39.50,507.30 C40.12,500.55 40.62,488.97 41.20,480.90 C41.78,472.83 42.40,465.06 43.00,458.90 C43.60,452.74 44.22,447.61 44.80,443.94 C45.38,440.27 45.88,437.34 46.50,436.90 C47.12,436.46 47.87,438.37 48.50,441.30 C49.13,444.23 49.73,449.37 50.30,454.50 C50.87,459.63 51.45,466.53 51.90,472.10 C52.35,477.67 52.67,483.25 53.00,487.94 C53.33,492.63 53.52,496.30 53.90,500.26 C54.28,504.22 54.85,508.62 55.30,511.70 C55.75,514.78 56.15,516.83 56.60,518.74 C57.05,520.65 57.43,522.11 58.00,523.14 C58.57,524.17 59.67,524.61 60.00,524.90" fill="none" stroke="#000" stroke-width="2.6" stroke-dasharray="3.6,2.8"/>
<rect x="29.7" y="433.1" width="93.2" height="91.79999999999995" fill="none" stroke="#000" stroke-width="2.0"/>
<line x1="26.7" y1="524.9" x2="29.7" y2="524.9" stroke="#000" stroke-width="1.5"/>
<text x="26.4" y="527.5" text-anchor="end" style="font-size:7.2px;" fill="#333" class="lt">0</text>
<line x1="26.7" y1="507.3" x2="29.7" y2="507.3" stroke="#000" stroke-width="1.5"/>
<text x="26.4" y="509.90000000000003" text-anchor="end" style="font-size:7.2px;" fill="#333" class="lt">20</text>
<line x1="26.7" y1="489.7" x2="29.7" y2="489.7" stroke="#000" stroke-width="1.5"/>
<text x="26.4" y="492.3" text-anchor="end" style="font-size:7.2px;" fill="#333" class="lt">40</text>
<line x1="26.7" y1="472.1" x2="29.7" y2="472.1" stroke="#000" stroke-width="1.5"/>
<text x="26.4" y="474.70000000000005" text-anchor="end" style="font-size:7.2px;" fill="#333" class="lt">60</text>
<line x1="26.7" y1="454.5" x2="29.7" y2="454.5" stroke="#000" stroke-width="1.5"/>
<text x="26.4" y="457.1" text-anchor="end" style="font-size:7.2px;" fill="#333" class="lt">80</text>
<line x1="26.7" y1="436.90000000000003" x2="29.7" y2="436.90000000000003" stroke="#000" stroke-width="1.5"/>
<text x="26.4" y="439.50000000000006" text-anchor="end" style="font-size:7.2px;" fill="#333" class="lt">100</text>
<line x1="46.3" y1="524.9" x2="46.3" y2="527.4" stroke="#000" stroke-width="1.2"/>
<text x="46.3" y="534.1" text-anchor="middle" style="font-size:7.2px;" fill="#333" class="lt">0</text>
<line x1="68" y1="524.9" x2="68" y2="527.4" stroke="#000" stroke-width="1.2"/>
<text x="68" y="534.1" text-anchor="middle" style="font-size:7.2px;" fill="#333" class="lt">10<tspan font-size="60%" baseline-shift="super">3</tspan></text>
<line x1="91.3" y1="524.9" x2="91.3" y2="527.4" stroke="#000" stroke-width="1.2"/>
<text x="91.3" y="534.1" text-anchor="middle" style="font-size:7.2px;" fill="#333" class="lt">10<tspan font-size="60%" baseline-shift="super">4</tspan></text>
<line x1="113.8" y1="524.9" x2="113.8" y2="527.4" stroke="#000" stroke-width="1.2"/>
<text x="113.8" y="534.1" text-anchor="middle" style="font-size:7.2px;" fill="#333" class="lt">10<tspan font-size="60%" baseline-shift="super">5</tspan></text>
<text x="74.5" y="424.7" text-anchor="middle" style="font-size:15.7px;" fill="#000">Blood, 6 dpr</text>
<text x="76.5" y="547.0" text-anchor="middle" style="font-size:15.9px;" fill="#000">Granzyme B</text>
<line x1="31.9" y1="559.5" x2="58.5" y2="559.5" stroke="#000" stroke-width="2.6" stroke-dasharray="3.6,3.0"/>
<line x1="31.9" y1="573.8" x2="58.5" y2="573.8" stroke="#000" stroke-width="2.4"/>
<line x1="31.9" y1="588.9" x2="58.5" y2="588.9" stroke="#8c8c8c" stroke-width="2.4"/>
<text x="61.7" y="564.3" text-anchor="start" style="font-size:13.6px;" fill="#000">Naive T cells</text>
<text x="61.7" y="578.6" text-anchor="start" style="font-size:13.6px;" fill="#000">WT</text>
<text x="61.7" y="592.8" text-anchor="start" style="font-size:13.6px;" fill="#000"><tspan font-style="italic">Batf3</tspan><tspan font-style="italic" font-size="55%" baseline-shift="super">-/-</tspan></text>
<path d="M298.50,524.90 C298.80,524.16 299.68,523.13 300.30,520.48 C300.92,517.82 301.55,513.10 302.20,508.97 C302.85,504.84 303.47,501.15 304.20,495.69 C304.93,490.24 305.92,482.42 306.60,476.23 C307.28,470.03 307.78,463.98 308.30,458.53 C308.82,453.07 309.30,446.87 309.70,443.48 C310.10,440.09 310.23,437.88 310.70,438.17 C311.17,438.47 311.90,441.56 312.50,445.25 C313.10,448.94 313.67,454.40 314.30,460.30 C314.93,466.19 315.68,474.31 316.30,480.65 C316.92,486.99 317.43,493.34 318.00,498.35 C318.57,503.37 319.12,507.35 319.70,510.74 C320.28,514.13 320.93,516.79 321.50,518.70 C322.07,520.62 322.18,521.21 323.10,522.25 C324.02,523.28 326.35,524.46 327.00,524.90" fill="none" stroke="#000" stroke-width="2.3" stroke-linejoin="round"/>
<path d="M296.50,524.90 C296.83,524.01 297.83,522.54 298.50,519.59 C299.17,516.64 299.83,511.62 300.50,507.20 C301.17,502.77 301.83,497.76 302.50,493.04 C303.17,488.32 303.83,483.45 304.50,478.88 C305.17,474.31 305.83,469.74 306.50,465.61 C307.17,461.48 307.80,457.05 308.50,454.10 C309.20,451.15 310.03,448.20 310.70,447.91 C311.37,447.61 311.87,449.82 312.50,452.33 C313.13,454.84 313.87,459.12 314.50,462.95 C315.13,466.79 315.72,470.92 316.30,475.34 C316.88,479.77 317.50,485.67 318.00,489.50 C318.50,493.33 318.68,495.70 319.30,498.35 C319.92,501.00 320.62,502.78 321.70,505.43 C322.78,508.08 324.67,511.92 325.80,514.28 C326.93,516.64 327.62,518.26 328.50,519.59 C329.38,520.92 329.68,521.36 331.10,522.25 C332.52,523.13 336.02,524.46 337.00,524.90" fill="none" stroke="#8c8c8c" stroke-width="2.6" stroke-linejoin="round"/>
<path d="M293.50,524.90 C293.83,523.42 294.92,520.47 295.50,516.05 C296.08,511.62 296.55,504.25 297.00,498.35 C297.45,492.45 297.78,486.55 298.20,480.65 C298.62,474.75 299.03,468.56 299.50,462.95 C299.97,457.35 300.43,451.15 301.00,447.02 C301.57,442.89 302.27,438.47 302.90,438.17 C303.53,437.88 304.25,441.56 304.80,445.25 C305.35,448.94 305.73,455.13 306.20,460.30 C306.67,465.46 307.15,471.06 307.60,476.23 C308.05,481.39 308.42,486.11 308.90,491.27 C309.38,496.43 309.93,502.77 310.50,507.20 C311.07,511.62 311.72,515.16 312.30,517.82 C312.88,520.47 313.38,521.95 314.00,523.13 C314.62,524.31 315.67,524.61 316.00,524.90" fill="none" stroke="#000" stroke-width="2.6" stroke-dasharray="3.6,2.8"/>
<rect x="286.1" y="432.6" width="92.79999999999995" height="92.29999999999995" fill="none" stroke="#000" stroke-width="2.0"/>
<line x1="283.1" y1="524.9" x2="286.1" y2="524.9" stroke="#000" stroke-width="1.5"/>
<text x="282.8" y="527.5" text-anchor="end" style="font-size:7.2px;" fill="#333" class="lt">0</text>
<line x1="283.1" y1="507.2" x2="286.1" y2="507.2" stroke="#000" stroke-width="1.5"/>
<text x="282.8" y="509.8" text-anchor="end" style="font-size:7.2px;" fill="#333" class="lt">20</text>
<line x1="283.1" y1="489.5" x2="286.1" y2="489.5" stroke="#000" stroke-width="1.5"/>
<text x="282.8" y="492.1" text-anchor="end" style="font-size:7.2px;" fill="#333" class="lt">40</text>
<line x1="283.1" y1="471.8" x2="286.1" y2="471.8" stroke="#000" stroke-width="1.5"/>
<text x="282.8" y="474.40000000000003" text-anchor="end" style="font-size:7.2px;" fill="#333" class="lt">60</text>
<line x1="283.1" y1="454.1" x2="286.1" y2="454.1" stroke="#000" stroke-width="1.5"/>
<text x="282.8" y="456.70000000000005" text-anchor="end" style="font-size:7.2px;" fill="#333" class="lt">80</text>
<line x1="283.1" y1="436.40000000000003" x2="286.1" y2="436.40000000000003" stroke="#000" stroke-width="1.5"/>
<text x="282.8" y="439.00000000000006" text-anchor="end" style="font-size:7.2px;" fill="#333" class="lt">100</text>
<line x1="302.5" y1="524.9" x2="302.5" y2="527.4" stroke="#000" stroke-width="1.2"/>
<text x="302.5" y="534.1" text-anchor="middle" style="font-size:7.2px;" fill="#333" class="lt">0</text>
<line x1="324.5" y1="524.9" x2="324.5" y2="527.4" stroke="#000" stroke-width="1.2"/>
<text x="324.5" y="534.1" text-anchor="middle" style="font-size:7.2px;" fill="#333" class="lt">10<tspan font-size="60%" baseline-shift="super">3</tspan></text>
<line x1="348" y1="524.9" x2="348" y2="527.4" stroke="#000" stroke-width="1.2"/>
<text x="348" y="534.1" text-anchor="middle" style="font-size:7.2px;" fill="#333" class="lt">10<tspan font-size="60%" baseline-shift="super">4</tspan></text>
<line x1="370" y1="524.9" x2="370" y2="527.4" stroke="#000" stroke-width="1.2"/>
<text x="370" y="534.1" text-anchor="middle" style="font-size:7.2px;" fill="#333" class="lt">10<tspan font-size="60%" baseline-shift="super">5</tspan></text>
<text x="332.3" y="424.7" text-anchor="middle" style="font-size:15.7px;" fill="#000">IEL, 6 dpr</text>
<text x="332.7" y="547.0" text-anchor="middle" style="font-size:15.9px;" fill="#000">Granzyme B</text>
<line x1="288.09999999999997" y1="559.5" x2="314.7" y2="559.5" stroke="#000" stroke-width="2.6" stroke-dasharray="3.6,3.0"/>
<line x1="288.09999999999997" y1="573.8" x2="314.7" y2="573.8" stroke="#000" stroke-width="2.4"/>
<line x1="288.09999999999997" y1="588.9" x2="314.7" y2="588.9" stroke="#8c8c8c" stroke-width="2.4"/>
<text x="317.9" y="564.3" text-anchor="start" style="font-size:13.6px;" fill="#000">Naive T cells</text>
<text x="317.9" y="578.6" text-anchor="start" style="font-size:13.6px;" fill="#000">WT</text>
<text x="317.9" y="592.8" text-anchor="start" style="font-size:13.6px;" fill="#000"><tspan font-style="italic">Batf3</tspan><tspan font-style="italic" font-size="55%" baseline-shift="super">-/-</tspan></text>
<line x1="181.2" y1="419.2" x2="181.2" y2="540.4" stroke="#000" stroke-width="2.0"/>
<line x1="175.7" y1="540.4" x2="181.2" y2="540.4" stroke="#000" stroke-width="2.0"/>
<text x="174.89999999999998" y="545.6999999999999" text-anchor="end" style="font-size:15.3px;" fill="#000">0</text>
<line x1="175.7" y1="510.26" x2="181.2" y2="510.26" stroke="#000" stroke-width="2.0"/>
<text x="174.89999999999998" y="515.56" text-anchor="end" style="font-size:15.3px;" fill="#000">200</text>
<line x1="175.7" y1="480.12" x2="181.2" y2="480.12" stroke="#000" stroke-width="2.0"/>
<text x="174.89999999999998" y="485.42" text-anchor="end" style="font-size:15.3px;" fill="#000">400</text>
<line x1="175.7" y1="449.97999999999996" x2="181.2" y2="449.97999999999996" stroke="#000" stroke-width="2.0"/>
<text x="174.89999999999998" y="455.28" text-anchor="end" style="font-size:15.3px;" fill="#000">600</text>
<line x1="175.7" y1="419.84" x2="181.2" y2="419.84" stroke="#000" stroke-width="2.0"/>
<text x="174.89999999999998" y="425.14" text-anchor="end" style="font-size:15.3px;" fill="#000">800</text>
<line x1="180.2" y1="540.4" x2="242.8" y2="540.4" stroke="#000" stroke-width="2.0"/>
<line x1="195.9" y1="540.4" x2="195.9" y2="545.9" stroke="#000" stroke-width="2.0"/>
<line x1="226.4" y1="540.4" x2="226.4" y2="545.9" stroke="#000" stroke-width="2.0"/>
<circle cx="195.9" cy="452.2405" r="3.1" fill="#5a5a5a" stroke="#000" stroke-width="1.9"/>
<circle cx="226.4" cy="451.0349" r="3.1" fill="#5a5a5a" stroke="#000" stroke-width="1.9"/>
<circle cx="195.9" cy="490.669" r="3.1" fill="#5a5a5a" stroke="#000" stroke-width="1.9"/>
<circle cx="226.4" cy="482.3805" r="3.1" fill="#5a5a5a" stroke="#000" stroke-width="1.9"/>
<circle cx="195.9" cy="498.9575" r="3.1" fill="#5a5a5a" stroke="#000" stroke-width="1.9"/>
<circle cx="226.4" cy="494.73789999999997" r="3.1" fill="#5a5a5a" stroke="#000" stroke-width="1.9"/>
<circle cx="195.9" cy="500.91659999999996" r="3.1" fill="#5a5a5a" stroke="#000" stroke-width="1.9"/>
<circle cx="226.4" cy="497.2998" r="3.1" fill="#5a5a5a" stroke="#000" stroke-width="1.9"/>
<circle cx="195.9" cy="502.72499999999997" r="3.1" fill="#5a5a5a" stroke="#000" stroke-width="1.9"/>
<circle cx="226.4" cy="499.40959999999995" r="3.1" fill="#5a5a5a" stroke="#000" stroke-width="1.9"/>
<circle cx="195.9" cy="510.5614" r="3.1" fill="#5a5a5a" stroke="#000" stroke-width="1.9"/>
<circle cx="226.4" cy="505.4376" r="3.1" fill="#5a5a5a" stroke="#000" stroke-width="1.9"/>
<circle cx="195.9" cy="522.7681" r="3.1" fill="#5a5a5a" stroke="#000" stroke-width="1.9"/>
<circle cx="226.4" cy="519.302" r="3.1" fill="#5a5a5a" stroke="#000" stroke-width="1.9"/>
<line x1="195.9" y1="452.2405" x2="226.4" y2="451.0349" stroke="#000" stroke-width="2.0"/>
<line x1="195.9" y1="490.669" x2="226.4" y2="482.3805" stroke="#000" stroke-width="2.0"/>
<line x1="195.9" y1="498.9575" x2="226.4" y2="494.73789999999997" stroke="#000" stroke-width="2.0"/>
<line x1="195.9" y1="500.91659999999996" x2="226.4" y2="497.2998" stroke="#000" stroke-width="2.0"/>
<line x1="195.9" y1="502.72499999999997" x2="226.4" y2="499.40959999999995" stroke="#000" stroke-width="2.0"/>
<line x1="195.9" y1="510.5614" x2="226.4" y2="505.4376" stroke="#000" stroke-width="2.0"/>
<line x1="195.9" y1="522.7681" x2="226.4" y2="519.302" stroke="#000" stroke-width="2.0"/>
<text x="205.87" y="441.57000000000005" text-anchor="start" style="font-size:13px;font-weight:bold;" fill="#000" letter-spacing="1.0">**</text>
<text x="203.5" y="558.6" text-anchor="end" style="font-size:15px;" fill="#000" transform="rotate(-45 203.5 558.6)">WT</text>
<text x="232.4" y="557.5" text-anchor="end" style="font-size:15px;" fill="#000" transform="rotate(-45 232.4 557.5)"><tspan font-style="italic">Batf3</tspan><tspan font-style="italic" font-size="55%" baseline-shift="super">-/-</tspan></text>
<text x="141.8" y="482.8" text-anchor="middle" style="font-size:15.7px;" fill="#000" transform="rotate(-90 141.8 482.8)">Granzyme B (MFI)</text>
<line x1="437" y1="419.5" x2="437" y2="540.3" stroke="#000" stroke-width="2.0"/>
<line x1="431.5" y1="540.3" x2="437" y2="540.3" stroke="#000" stroke-width="2.0"/>
<text x="430.7" y="545.5999999999999" text-anchor="end" style="font-size:15.3px;" fill="#000">0</text>
<line x1="431.5" y1="516.24" x2="437" y2="516.24" stroke="#000" stroke-width="2.0"/>
<text x="430.7" y="521.54" text-anchor="end" style="font-size:15.3px;" fill="#000">100</text>
<line x1="431.5" y1="492.17999999999995" x2="437" y2="492.17999999999995" stroke="#000" stroke-width="2.0"/>
<text x="430.7" y="497.47999999999996" text-anchor="end" style="font-size:15.3px;" fill="#000">200</text>
<line x1="431.5" y1="468.11999999999995" x2="437" y2="468.11999999999995" stroke="#000" stroke-width="2.0"/>
<text x="430.7" y="473.41999999999996" text-anchor="end" style="font-size:15.3px;" fill="#000">300</text>
<line x1="431.5" y1="444.05999999999995" x2="437" y2="444.05999999999995" stroke="#000" stroke-width="2.0"/>
<text x="430.7" y="449.35999999999996" text-anchor="end" style="font-size:15.3px;" fill="#000">400</text>
<line x1="431.5" y1="419.99999999999994" x2="437" y2="419.99999999999994" stroke="#000" stroke-width="2.0"/>
<text x="430.7" y="425.29999999999995" text-anchor="end" style="font-size:15.3px;" fill="#000">500</text>
<line x1="436" y1="540.3" x2="498.6" y2="540.3" stroke="#000" stroke-width="2.0"/>
<line x1="452.6" y1="540.3" x2="452.6" y2="545.8" stroke="#000" stroke-width="2.0"/>
<line x1="482.7" y1="540.3" x2="482.7" y2="545.8" stroke="#000" stroke-width="2.0"/>
<circle cx="452.6" cy="471.48839999999996" r="3.1" fill="#5a5a5a" stroke="#000" stroke-width="1.9"/>
<circle cx="482.7" cy="438.28559999999993" r="3.1" fill="#5a5a5a" stroke="#000" stroke-width="1.9"/>
<circle cx="452.6" cy="472.69139999999993" r="3.1" fill="#5a5a5a" stroke="#000" stroke-width="1.9"/>
<circle cx="482.7" cy="448.87199999999996" r="3.1" fill="#5a5a5a" stroke="#000" stroke-width="1.9"/>
<circle cx="452.6" cy="474.61619999999994" r="3.1" fill="#5a5a5a" stroke="#000" stroke-width="1.9"/>
<circle cx="482.7" cy="473.41319999999996" r="3.1" fill="#5a5a5a" stroke="#000" stroke-width="1.9"/>
<circle cx="452.6" cy="478.7064" r="3.1" fill="#5a5a5a" stroke="#000" stroke-width="1.9"/>
<circle cx="482.7" cy="489.29279999999994" r="3.1" fill="#5a5a5a" stroke="#000" stroke-width="1.9"/>
<circle cx="452.6" cy="482.31539999999995" r="3.1" fill="#5a5a5a" stroke="#000" stroke-width="1.9"/>
<circle cx="482.7" cy="476.78159999999997" r="3.1" fill="#5a5a5a" stroke="#000" stroke-width="1.9"/>
<circle cx="452.6" cy="485.20259999999996" r="3.1" fill="#5a5a5a" stroke="#000" stroke-width="1.9"/>
<circle cx="482.7" cy="480.39059999999995" r="3.1" fill="#5a5a5a" stroke="#000" stroke-width="1.9"/>
<circle cx="452.6" cy="489.05219999999997" r="3.1" fill="#5a5a5a" stroke="#000" stroke-width="1.9"/>
<circle cx="482.7" cy="483.75899999999996" r="3.1" fill="#5a5a5a" stroke="#000" stroke-width="1.9"/>
<line x1="452.6" y1="471.48839999999996" x2="482.7" y2="438.28559999999993" stroke="#000" stroke-width="2.0"/>
<line x1="452.6" y1="472.69139999999993" x2="482.7" y2="448.87199999999996" stroke="#000" stroke-width="2.0"/>
<line x1="452.6" y1="474.61619999999994" x2="482.7" y2="473.41319999999996" stroke="#000" stroke-width="2.0"/>
<line x1="452.6" y1="478.7064" x2="482.7" y2="489.29279999999994" stroke="#000" stroke-width="2.0"/>
<line x1="452.6" y1="482.31539999999995" x2="482.7" y2="476.78159999999997" stroke="#000" stroke-width="2.0"/>
<line x1="452.6" y1="485.20259999999996" x2="482.7" y2="480.39059999999995" stroke="#000" stroke-width="2.0"/>
<line x1="452.6" y1="489.05219999999997" x2="482.7" y2="483.75899999999996" stroke="#000" stroke-width="2.0"/>
<text x="460.20000000000005" y="558.5" text-anchor="end" style="font-size:15px;" fill="#000" transform="rotate(-45 460.20000000000005 558.5)">WT</text>
<text x="488.7" y="557.4" text-anchor="end" style="font-size:15px;" fill="#000" transform="rotate(-45 488.7 557.4)"><tspan font-style="italic">Batf3</tspan><tspan font-style="italic" font-size="55%" baseline-shift="super">-/-</tspan></text>
<text x="398.1" y="482.8" text-anchor="middle" style="font-size:15.7px;" fill="#000" transform="rotate(-90 398.1 482.8)">Granzyme B (MFI)</text>
<text x="29.2" y="625.1" text-anchor="start" style="font-size:13.6px;font-weight:bold;" fill="#000" textLength="22.6" lengthAdjust="spacingAndGlyphs">IEL</text>
<line x1="29.4" y1="627.5" x2="52.2" y2="627.5" stroke="#000" stroke-width="1.5"/>
<text x="83.5" y="623.8" text-anchor="start" style="font-size:14.5px;" fill="#000" textLength="77.5" lengthAdjust="spacingAndGlyphs">- SIINFEKL</text>
<text x="181.3" y="623.8" text-anchor="start" style="font-size:14.5px;" fill="#000" textLength="82" lengthAdjust="spacingAndGlyphs">+ SIINFEKL</text>
<text x="25.5" y="671.3" text-anchor="start" style="font-size:15.5px;" fill="#000">WT</text>
<text x="6.0" y="769.8" text-anchor="start" style="font-size:15.2px;" fill="#000"><tspan font-style="italic">Batf3</tspan><tspan font-style="italic" font-size="55%" baseline-shift="super">-/-</tspan></text>
<path d="M86.44,692.49 C86.86,691.39 87.41,687.67 88.92,685.88 C90.44,684.09 92.78,682.63 95.54,681.75 C98.29,680.86 102.15,680.67 105.46,680.59 C108.77,680.51 113.04,680.64 115.38,681.25 C117.72,681.86 118.74,682.63 119.52,684.23 C120.29,685.82 120.15,688.36 120.01,690.84 C119.87,693.32 119.60,696.77 118.69,699.11 C117.78,701.45 116.48,703.52 114.55,704.90 C112.63,706.28 110.01,707.24 107.11,707.38 C104.22,707.52 100.08,706.83 97.19,705.72 C94.30,704.62 91.54,702.42 89.75,700.76 C87.96,699.11 86.99,697.18 86.44,695.80 C85.89,694.42 86.03,694.15 86.44,692.49 C86.86,690.84 87.41,687.67 88.92,685.88 C90.44,684.09 94.43,682.43 95.54,681.75" fill="none" stroke="#000" stroke-width="0.85"/>
<path d="M87.63,692.50 C88.02,691.46 88.54,687.96 89.96,686.27 C91.39,684.59 93.59,683.21 96.19,682.38 C98.78,681.55 102.41,681.37 105.52,681.29 C108.63,681.22 112.65,681.35 114.85,681.92 C117.06,682.49 118.02,683.21 118.74,684.72 C119.47,686.22 119.34,688.61 119.21,690.94 C119.08,693.27 118.82,696.51 117.97,698.72 C117.11,700.92 115.89,702.87 114.08,704.16 C112.26,705.46 109.80,706.37 107.08,706.50 C104.35,706.63 100.47,705.98 97.74,704.94 C95.02,703.90 92.43,701.83 90.74,700.27 C89.06,698.72 88.15,696.90 87.63,695.61 C87.11,694.31 87.24,694.05 87.63,692.50 C88.02,690.94 88.54,687.96 89.96,686.27 C91.39,684.59 95.15,683.03 96.19,682.38" fill="none" stroke="#000" stroke-width="0.85"/>
<path d="M88.82,692.50 C89.19,691.52 89.67,688.24 91.01,686.67 C92.34,685.09 94.41,683.80 96.84,683.02 C99.27,682.24 102.67,682.07 105.58,682.00 C108.50,681.93 112.26,682.05 114.33,682.58 C116.39,683.12 117.29,683.80 117.97,685.21 C118.65,686.62 118.53,688.85 118.41,691.04 C118.29,693.22 118.05,696.26 117.24,698.33 C116.44,700.39 115.30,702.21 113.60,703.43 C111.90,704.64 109.59,705.49 107.04,705.61 C104.49,705.73 100.85,705.13 98.29,704.16 C95.74,703.18 93.31,701.24 91.74,699.78 C90.16,698.33 89.31,696.63 88.82,695.41 C88.33,694.20 88.46,693.95 88.82,692.50 C89.19,691.04 89.67,688.24 91.01,686.67 C92.34,685.09 95.87,683.63 96.84,683.02" fill="none" stroke="#000" stroke-width="0.85"/>
<path d="M90.01,692.50 C90.35,691.59 90.80,688.53 92.05,687.06 C93.30,685.58 95.22,684.38 97.49,683.66 C99.75,682.93 102.93,682.78 105.64,682.71 C108.36,682.64 111.88,682.75 113.80,683.25 C115.73,683.75 116.57,684.38 117.20,685.70 C117.83,687.01 117.72,689.10 117.61,691.14 C117.49,693.18 117.27,696.01 116.52,697.93 C115.77,699.86 114.71,701.56 113.12,702.69 C111.54,703.82 109.38,704.62 107.00,704.73 C104.62,704.84 101.23,704.28 98.85,703.37 C96.47,702.47 94.20,700.65 92.73,699.29 C91.26,697.93 90.46,696.35 90.01,695.21 C89.56,694.08 89.67,693.86 90.01,692.50 C90.35,691.14 90.80,688.53 92.05,687.06 C93.30,685.58 96.58,684.23 97.49,683.66" fill="#050505" stroke="#000" stroke-width="0.85"/>
<path d="M91.26,692.50 C91.58,691.66 92.00,688.83 93.15,687.47 C94.30,686.11 96.08,685.00 98.17,684.33 C100.27,683.66 103.20,683.51 105.71,683.45 C108.22,683.39 111.47,683.49 113.25,683.95 C115.03,684.41 115.80,685.00 116.39,686.21 C116.97,687.43 116.87,689.36 116.76,691.24 C116.66,693.12 116.45,695.74 115.76,697.52 C115.07,699.30 114.08,700.87 112.62,701.92 C111.15,702.96 109.16,703.70 106.97,703.80 C104.77,703.91 101.63,703.38 99.43,702.55 C97.23,701.71 95.14,700.03 93.78,698.78 C92.41,697.52 91.68,696.06 91.26,695.01 C90.84,693.96 90.95,693.75 91.26,692.50 C91.58,691.24 92.00,688.83 93.15,687.47 C94.30,686.11 97.33,684.85 98.17,684.33" fill="none" stroke="#fff" stroke-width="0.35" stroke-opacity="0.12"/>
<path d="M92.51,692.50 C92.80,691.73 93.19,689.13 94.24,687.88 C95.30,686.64 96.93,685.62 98.86,685.00 C100.78,684.39 103.47,684.25 105.77,684.19 C108.08,684.14 111.06,684.23 112.69,684.66 C114.33,685.08 115.04,685.62 115.58,686.73 C116.11,687.85 116.02,689.61 115.92,691.34 C115.82,693.07 115.63,695.48 115.00,697.11 C114.36,698.74 113.46,700.18 112.12,701.14 C110.77,702.10 108.95,702.78 106.93,702.87 C104.91,702.97 102.03,702.49 100.01,701.72 C97.99,700.95 96.07,699.41 94.82,698.26 C93.57,697.11 92.90,695.76 92.51,694.80 C92.13,693.84 92.23,693.65 92.51,692.50 C92.80,691.34 93.19,689.13 94.24,687.88 C95.30,686.64 98.09,685.48 98.86,685.00" fill="none" stroke="#fff" stroke-width="0.35" stroke-opacity="0.12"/>
<path d="M93.77,692.50 C94.03,691.80 94.38,689.43 95.34,688.30 C96.30,687.16 97.79,686.23 99.54,685.67 C101.29,685.11 103.74,684.99 105.84,684.94 C107.94,684.89 110.65,684.97 112.14,685.36 C113.63,685.74 114.27,686.23 114.76,687.25 C115.25,688.26 115.17,689.87 115.08,691.45 C114.99,693.02 114.82,695.21 114.24,696.70 C113.66,698.18 112.84,699.50 111.61,700.37 C110.39,701.24 108.73,701.86 106.89,701.94 C105.05,702.03 102.43,701.59 100.59,700.90 C98.75,700.20 97.00,698.80 95.87,697.75 C94.73,696.70 94.12,695.47 93.77,694.60 C93.42,693.72 93.50,693.55 93.77,692.50 C94.03,691.45 94.38,689.43 95.34,688.30 C96.30,687.16 98.84,686.11 99.54,685.67" fill="none" stroke="#fff" stroke-width="0.35" stroke-opacity="0.12"/>
<path d="M95.02,692.50 C95.26,691.87 95.57,689.74 96.44,688.71 C97.31,687.69 98.65,686.85 100.23,686.34 C101.80,685.84 104.01,685.73 105.90,685.68 C107.80,685.63 110.24,685.71 111.58,686.06 C112.92,686.41 113.51,686.85 113.95,687.76 C114.39,688.68 114.31,690.13 114.23,691.55 C114.16,692.97 114.00,694.94 113.48,696.28 C112.96,697.62 112.21,698.81 111.11,699.60 C110.01,700.38 108.51,700.94 106.85,701.02 C105.19,701.09 102.83,700.70 101.17,700.07 C99.52,699.44 97.94,698.18 96.91,697.23 C95.89,696.28 95.33,695.18 95.02,694.39 C94.70,693.60 94.78,693.44 95.02,692.50 C95.26,691.55 95.57,689.74 96.44,688.71 C97.31,687.69 99.59,686.74 100.23,686.34" fill="none" stroke="#fff" stroke-width="0.35" stroke-opacity="0.12"/>
<path d="M96.27,692.50 C96.48,691.94 96.76,690.04 97.54,689.12 C98.31,688.21 99.50,687.47 100.91,687.02 C102.31,686.57 104.28,686.47 105.97,686.43 C107.66,686.38 109.83,686.45 111.03,686.76 C112.22,687.07 112.74,687.47 113.14,688.28 C113.53,689.10 113.46,690.39 113.39,691.65 C113.32,692.92 113.18,694.68 112.72,695.87 C112.25,697.07 111.59,698.12 110.61,698.82 C109.62,699.53 108.29,700.02 106.81,700.09 C105.34,700.16 103.23,699.81 101.75,699.24 C100.28,698.68 98.87,697.56 97.96,696.71 C97.04,695.87 96.55,694.89 96.27,694.18 C95.99,693.48 96.06,693.34 96.27,692.50 C96.48,691.65 96.76,690.04 97.54,689.12 C98.31,688.21 100.35,687.37 100.91,687.02" fill="none" stroke="#fff" stroke-width="0.35" stroke-opacity="0.12"/>
<ellipse cx="107.4" cy="692.2" rx="0.8" ry="1.3" fill="#fff"/>
<rect x="79.8" y="628.5" width="85.00000000000001" height="84.70000000000005" fill="none" stroke="#000" stroke-width="2.0"/>
<line x1="121.2" y1="628.5" x2="121.2" y2="713.2" stroke="#000" stroke-width="2.0"/>
<line x1="79.8" y1="680.8" x2="164.8" y2="680.8" stroke="#000" stroke-width="2.0"/>
<text x="82.3" y="641.0" text-anchor="start" style="font-size:13.5px;" fill="#000">1</text>
<text x="161.2" y="641.0" text-anchor="end" style="font-size:13.5px;" fill="#000">0</text>
<text x="161.2" y="709.6" text-anchor="end" style="font-size:13.5px;" fill="#000">0</text>
<line x1="77.3" y1="636.3" x2="79.8" y2="636.3" stroke="#000" stroke-width="1.2"/>
<text x="76.8" y="638.5999999999999" text-anchor="end" style="font-size:6.8px;" fill="#444" class="lt">10<tspan font-size="60%" baseline-shift="super">5</tspan></text>
<line x1="77.3" y1="656.5" x2="79.8" y2="656.5" stroke="#000" stroke-width="1.2"/>
<text x="76.8" y="658.8" text-anchor="end" style="font-size:6.8px;" fill="#444" class="lt">10<tspan font-size="60%" baseline-shift="super">4</tspan></text>
<line x1="77.3" y1="676.5" x2="79.8" y2="676.5" stroke="#000" stroke-width="1.2"/>
<text x="76.8" y="678.8" text-anchor="end" style="font-size:6.8px;" fill="#444" class="lt">10<tspan font-size="60%" baseline-shift="super">3</tspan></text>
<line x1="77.3" y1="700.4" x2="79.8" y2="700.4" stroke="#000" stroke-width="1.2"/>
<text x="76.8" y="702.6999999999999" text-anchor="end" style="font-size:6.8px;" fill="#444" class="lt">0</text>
<line x1="79.6" y1="713.2" x2="79.6" y2="715.7" stroke="#000" stroke-width="1.2"/>
<text x="79.6" y="721.5" text-anchor="middle" style="font-size:6.8px;" fill="#444" class="lt">10<tspan font-size="60%" baseline-shift="super">3</tspan></text>
<line x1="94.6" y1="713.2" x2="94.6" y2="715.7" stroke="#000" stroke-width="1.2"/>
<text x="94.6" y="721.5" text-anchor="middle" style="font-size:6.8px;" fill="#444" class="lt">0</text>
<line x1="110.8" y1="713.2" x2="110.8" y2="715.7" stroke="#000" stroke-width="1.2"/>
<text x="110.8" y="721.5" text-anchor="middle" style="font-size:6.8px;" fill="#444" class="lt">10<tspan font-size="60%" baseline-shift="super">3</tspan></text>
<line x1="130.4" y1="713.2" x2="130.4" y2="715.7" stroke="#000" stroke-width="1.2"/>
<text x="130.4" y="721.5" text-anchor="middle" style="font-size:6.8px;" fill="#444" class="lt">10<tspan font-size="60%" baseline-shift="super">4</tspan></text>
<line x1="148.9" y1="713.2" x2="148.9" y2="715.7" stroke="#000" stroke-width="1.2"/>
<text x="148.9" y="721.5" text-anchor="middle" style="font-size:6.8px;" fill="#444" class="lt">10<tspan font-size="60%" baseline-shift="super">5</tspan></text>
<path d="M195.53,693.38 C195.26,691.75 194.03,686.57 193.89,683.57 C193.76,680.58 194.17,678.13 194.71,675.40 C195.26,672.68 196.24,669.82 197.16,667.23 C198.09,664.64 199.04,662.32 200.27,659.87 C201.49,657.42 202.94,654.67 204.52,652.52 C206.10,650.37 207.79,648.32 209.75,646.96 C211.71,645.60 214.16,644.92 216.29,644.35 C218.41,643.77 220.37,644.07 222.50,643.53 C224.62,642.98 226.31,641.70 229.04,641.08 C231.76,640.45 235.57,639.90 238.84,639.77 C242.11,639.63 245.93,639.63 248.65,640.26 C251.37,640.89 253.77,642.17 255.19,643.53 C256.60,644.89 257.15,646.52 257.15,648.43 C257.15,650.34 256.60,653.06 255.19,654.97 C253.77,656.88 251.37,658.37 248.65,659.87 C245.93,661.37 242.11,662.73 238.84,663.96 C235.57,665.19 231.71,666.28 229.04,667.23 C226.37,668.18 224.19,668.73 222.82,669.68 C221.46,670.63 221.33,671.18 220.86,672.95 C220.40,674.72 220.32,677.72 220.05,680.30 C219.77,682.89 219.64,685.75 219.23,688.48 C218.82,691.20 218.41,694.33 217.59,696.65 C216.78,698.97 215.82,701.01 214.32,702.37 C212.83,703.73 210.51,704.69 208.60,704.82 C206.70,704.96 204.65,704.14 202.88,703.19 C201.11,702.23 199.21,700.74 197.98,699.10 C196.75,697.47 196.21,695.97 195.53,693.38 C194.85,690.79 194.03,686.57 193.89,683.57 C193.76,680.58 194.57,676.76 194.71,675.40" fill="none" stroke="#000" stroke-width="0.85"/>
<path d="M196.12,692.52 C195.86,690.94 194.67,685.94 194.54,683.05 C194.41,680.15 194.80,677.78 195.33,675.15 C195.86,672.52 196.80,669.75 197.70,667.25 C198.59,664.75 199.52,662.52 200.70,660.15 C201.88,657.78 203.28,655.12 204.81,653.04 C206.33,650.96 207.96,648.99 209.86,647.67 C211.75,646.36 214.12,645.70 216.17,645.15 C218.23,644.59 220.12,644.88 222.18,644.36 C224.23,643.83 225.86,642.59 228.49,641.99 C231.12,641.38 234.81,640.86 237.97,640.73 C241.12,640.59 244.81,640.59 247.44,641.20 C250.07,641.80 252.39,643.04 253.76,644.36 C255.13,645.67 255.65,647.25 255.65,649.10 C255.65,650.94 255.13,653.57 253.76,655.41 C252.39,657.25 250.07,658.70 247.44,660.15 C244.81,661.60 241.12,662.91 237.97,664.10 C234.81,665.28 231.07,666.33 228.49,667.25 C225.91,668.18 223.81,668.70 222.49,669.62 C221.18,670.54 221.04,671.07 220.60,672.78 C220.15,674.49 220.07,677.39 219.81,679.89 C219.54,682.39 219.41,685.15 219.02,687.78 C218.62,690.41 218.23,693.44 217.44,695.68 C216.65,697.92 215.73,699.89 214.28,701.21 C212.83,702.52 210.60,703.44 208.75,703.57 C206.91,703.71 204.94,702.92 203.23,701.99 C201.52,701.07 199.67,699.63 198.49,698.05 C197.30,696.47 196.78,695.02 196.12,692.52 C195.46,690.02 194.67,685.94 194.54,683.05 C194.41,680.15 195.20,676.47 195.33,675.15" fill="none" stroke="#000" stroke-width="0.85"/>
<path d="M196.71,691.66 C196.46,690.14 195.32,685.31 195.19,682.52 C195.06,679.72 195.44,677.44 195.95,674.90 C196.46,672.36 197.37,669.69 198.24,667.28 C199.10,664.87 199.99,662.71 201.13,660.42 C202.27,658.14 203.62,655.57 205.09,653.57 C206.57,651.56 208.14,649.66 209.97,648.39 C211.80,647.12 214.08,646.48 216.06,645.95 C218.04,645.42 219.87,645.70 221.85,645.19 C223.83,644.68 225.41,643.49 227.95,642.90 C230.49,642.32 234.04,641.81 237.09,641.68 C240.14,641.56 243.69,641.56 246.23,642.14 C248.77,642.72 251.01,643.92 252.33,645.19 C253.65,646.46 254.16,647.98 254.16,649.76 C254.16,651.54 253.65,654.08 252.33,655.85 C251.01,657.63 248.77,659.03 246.23,660.42 C243.69,661.82 240.14,663.09 237.09,664.23 C234.04,665.38 230.44,666.39 227.95,667.28 C225.46,668.17 223.43,668.68 222.16,669.57 C220.89,670.46 220.76,670.96 220.33,672.61 C219.90,674.26 219.82,677.06 219.57,679.47 C219.31,681.88 219.19,684.55 218.81,687.09 C218.43,689.63 218.04,692.55 217.28,694.71 C216.52,696.87 215.63,698.77 214.24,700.04 C212.84,701.31 210.68,702.20 208.90,702.33 C207.12,702.45 205.22,701.69 203.57,700.80 C201.92,699.91 200.14,698.52 199.00,696.99 C197.86,695.47 197.35,694.07 196.71,691.66 C196.08,689.25 195.32,685.31 195.19,682.52 C195.06,679.72 195.82,676.17 195.95,674.90" fill="none" stroke="#000" stroke-width="0.85"/>
<path d="M197.31,690.80 C197.06,689.33 195.96,684.68 195.84,681.99 C195.71,679.30 196.08,677.10 196.57,674.65 C197.06,672.20 197.94,669.63 198.77,667.31 C199.61,664.98 200.46,662.90 201.56,660.70 C202.66,658.50 203.96,656.03 205.38,654.09 C206.80,652.16 208.32,650.32 210.08,649.10 C211.84,647.88 214.04,647.27 215.95,646.75 C217.86,646.24 219.62,646.51 221.53,646.02 C223.44,645.53 224.96,644.38 227.40,643.81 C229.85,643.25 233.28,642.76 236.21,642.64 C239.15,642.52 242.58,642.52 245.02,643.08 C247.47,643.64 249.62,644.79 250.90,646.02 C252.17,647.24 252.66,648.71 252.66,650.42 C252.66,652.13 252.17,654.58 250.90,656.30 C249.62,658.01 247.47,659.35 245.02,660.70 C242.58,662.05 239.15,663.27 236.21,664.37 C233.28,665.47 229.80,666.45 227.40,667.31 C225.01,668.16 223.05,668.65 221.83,669.51 C220.60,670.37 220.48,670.86 220.06,672.45 C219.65,674.04 219.57,676.73 219.33,679.05 C219.08,681.38 218.96,683.95 218.59,686.39 C218.23,688.84 217.86,691.66 217.13,693.74 C216.39,695.82 215.54,697.65 214.19,698.87 C212.84,700.10 210.76,700.95 209.05,701.08 C207.34,701.20 205.50,700.47 203.91,699.61 C202.32,698.75 200.61,697.41 199.51,695.94 C198.41,694.47 197.92,693.12 197.31,690.80 C196.69,688.47 195.96,684.68 195.84,681.99 C195.71,679.30 196.45,675.87 196.57,674.65" fill="#050505" stroke="#000" stroke-width="0.85"/>
<path d="M198.05,689.71 C197.82,688.31 196.77,683.89 196.66,681.32 C196.54,678.76 196.89,676.66 197.35,674.33 C197.82,672.00 198.66,669.55 199.45,667.34 C200.24,665.13 201.06,663.15 202.11,661.05 C203.16,658.95 204.39,656.60 205.74,654.76 C207.10,652.91 208.54,651.17 210.22,650.00 C211.90,648.84 213.99,648.25 215.81,647.76 C217.63,647.28 219.31,647.53 221.12,647.07 C222.94,646.60 224.39,645.50 226.72,644.97 C229.05,644.43 232.31,643.97 235.11,643.85 C237.90,643.73 241.17,643.73 243.50,644.27 C245.83,644.80 247.88,645.90 249.09,647.07 C250.30,648.23 250.77,649.63 250.77,651.26 C250.77,652.89 250.30,655.22 249.09,656.85 C247.88,658.48 245.83,659.77 243.50,661.05 C241.17,662.33 237.90,663.49 235.11,664.54 C232.31,665.59 229.00,666.52 226.72,667.34 C224.43,668.16 222.57,668.62 221.40,669.44 C220.24,670.25 220.12,670.72 219.73,672.23 C219.33,673.75 219.26,676.31 219.03,678.53 C218.79,680.74 218.68,683.19 218.33,685.52 C217.98,687.85 217.63,690.53 216.93,692.51 C216.23,694.49 215.42,696.24 214.13,697.40 C212.85,698.57 210.87,699.38 209.24,699.50 C207.61,699.62 205.86,698.92 204.35,698.10 C202.83,697.29 201.20,696.00 200.15,694.61 C199.10,693.21 198.64,691.93 198.05,689.71 C197.47,687.50 196.77,683.89 196.66,681.32 C196.54,678.76 197.24,675.50 197.35,674.33" fill="none" stroke="#fff" stroke-width="0.35" stroke-opacity="0.12"/>
<path d="M198.80,688.63 C198.58,687.30 197.58,683.09 197.47,680.66 C197.36,678.22 197.69,676.23 198.14,674.01 C198.58,671.80 199.38,669.48 200.13,667.37 C200.88,665.27 201.66,663.39 202.65,661.40 C203.65,659.40 204.82,657.17 206.11,655.42 C207.39,653.67 208.76,652.01 210.36,650.90 C211.95,649.80 213.94,649.24 215.67,648.78 C217.40,648.31 218.99,648.56 220.72,648.11 C222.44,647.67 223.82,646.63 226.03,646.12 C228.24,645.61 231.34,645.17 234.00,645.06 C236.66,644.95 239.76,644.95 241.97,645.46 C244.18,645.97 246.13,647.01 247.28,648.11 C248.43,649.22 248.88,650.55 248.88,652.10 C248.88,653.65 248.43,655.86 247.28,657.41 C246.13,658.96 244.18,660.18 241.97,661.40 C239.76,662.61 236.66,663.72 234.00,664.72 C231.34,665.71 228.20,666.60 226.03,667.37 C223.86,668.15 222.09,668.59 220.98,669.37 C219.88,670.14 219.77,670.58 219.39,672.02 C219.01,673.46 218.95,675.90 218.73,678.00 C218.50,680.10 218.39,682.43 218.06,684.64 C217.73,686.85 217.40,689.40 216.73,691.28 C216.07,693.16 215.29,694.82 214.08,695.93 C212.86,697.04 210.98,697.81 209.43,697.92 C207.88,698.03 206.22,697.37 204.78,696.59 C203.34,695.82 201.79,694.60 200.79,693.27 C199.80,691.95 199.36,690.73 198.80,688.63 C198.25,686.52 197.58,683.09 197.47,680.66 C197.36,678.22 198.03,675.12 198.14,674.01" fill="none" stroke="#fff" stroke-width="0.35" stroke-opacity="0.12"/>
<path d="M199.55,687.54 C199.34,686.28 198.40,682.30 198.29,679.99 C198.19,677.68 198.50,675.79 198.92,673.70 C199.34,671.60 200.10,669.40 200.81,667.41 C201.52,665.41 202.26,663.63 203.20,661.74 C204.14,659.86 205.25,657.74 206.47,656.08 C207.69,654.43 208.99,652.85 210.50,651.80 C212.01,650.76 213.89,650.23 215.53,649.79 C217.17,649.35 218.68,649.58 220.31,649.16 C221.95,648.74 223.25,647.76 225.34,647.27 C227.44,646.79 230.38,646.37 232.89,646.27 C235.41,646.16 238.35,646.16 240.44,646.65 C242.54,647.13 244.39,648.11 245.48,649.16 C246.57,650.21 246.99,651.47 246.99,652.94 C246.99,654.40 246.57,656.50 245.48,657.97 C244.39,659.44 242.54,660.59 240.44,661.74 C238.35,662.90 235.41,663.95 232.89,664.89 C230.38,665.83 227.40,666.67 225.34,667.41 C223.29,668.14 221.61,668.56 220.56,669.29 C219.51,670.03 219.41,670.45 219.05,671.81 C218.70,673.17 218.63,675.48 218.42,677.47 C218.21,679.46 218.11,681.67 217.79,683.76 C217.48,685.86 217.17,688.27 216.54,690.05 C215.91,691.84 215.17,693.41 214.02,694.46 C212.87,695.51 211.08,696.24 209.62,696.35 C208.15,696.45 206.58,695.82 205.21,695.09 C203.85,694.35 202.38,693.20 201.44,691.94 C200.49,690.68 200.07,689.53 199.55,687.54 C199.03,685.55 198.40,682.30 198.29,679.99 C198.19,677.68 198.82,674.75 198.92,673.70" fill="none" stroke="#fff" stroke-width="0.35" stroke-opacity="0.12"/>
<path d="M200.30,686.45 C200.10,685.26 199.21,681.50 199.11,679.32 C199.01,677.14 199.31,675.36 199.70,673.38 C200.10,671.40 200.81,669.32 201.49,667.44 C202.16,665.56 202.85,663.87 203.74,662.09 C204.64,660.31 205.69,658.31 206.83,656.75 C207.98,655.18 209.21,653.70 210.64,652.70 C212.06,651.71 213.84,651.22 215.39,650.80 C216.93,650.39 218.36,650.61 219.90,650.21 C221.45,649.81 222.68,648.88 224.66,648.43 C226.64,647.97 229.41,647.58 231.79,647.48 C234.16,647.38 236.94,647.38 238.92,647.83 C240.90,648.29 242.64,649.22 243.67,650.21 C244.70,651.20 245.10,652.39 245.10,653.77 C245.10,655.16 244.70,657.14 243.67,658.53 C242.64,659.91 240.90,661.00 238.92,662.09 C236.94,663.18 234.16,664.17 231.79,665.06 C229.41,665.95 226.60,666.75 224.66,667.44 C222.72,668.13 221.13,668.53 220.14,669.22 C219.15,669.91 219.05,670.31 218.72,671.60 C218.38,672.89 218.32,675.06 218.12,676.95 C217.92,678.83 217.82,680.91 217.53,682.89 C217.23,684.87 216.93,687.14 216.34,688.83 C215.75,690.51 215.05,692.00 213.96,692.99 C212.87,693.98 211.19,694.67 209.80,694.77 C208.42,694.87 206.93,694.27 205.65,693.58 C204.36,692.89 202.97,691.80 202.08,690.61 C201.19,689.42 200.79,688.33 200.30,686.45 C199.80,684.57 199.21,681.50 199.11,679.32 C199.01,677.14 199.61,674.37 199.70,673.38" fill="none" stroke="#fff" stroke-width="0.35" stroke-opacity="0.12"/>
<path d="M201.05,685.36 C200.86,684.25 200.02,680.70 199.93,678.65 C199.84,676.60 200.11,674.93 200.49,673.06 C200.86,671.20 201.53,669.24 202.16,667.47 C202.80,665.70 203.45,664.12 204.29,662.44 C205.13,660.76 206.12,658.88 207.20,657.41 C208.28,655.94 209.43,654.54 210.78,653.61 C212.12,652.67 213.79,652.21 215.25,651.82 C216.70,651.43 218.04,651.63 219.50,651.26 C220.95,650.89 222.11,650.01 223.97,649.58 C225.83,649.15 228.44,648.78 230.68,648.69 C232.92,648.59 235.53,648.59 237.39,649.02 C239.25,649.45 240.89,650.33 241.86,651.26 C242.83,652.19 243.20,653.31 243.20,654.61 C243.20,655.92 242.83,657.78 241.86,659.09 C240.89,660.39 239.25,661.42 237.39,662.44 C235.53,663.47 232.92,664.40 230.68,665.24 C228.44,666.07 225.80,666.82 223.97,667.47 C222.14,668.12 220.65,668.50 219.72,669.15 C218.79,669.80 218.70,670.17 218.38,671.39 C218.06,672.60 218.01,674.65 217.82,676.42 C217.63,678.19 217.54,680.15 217.26,682.01 C216.98,683.87 216.70,686.02 216.14,687.60 C215.58,689.18 214.93,690.58 213.91,691.51 C212.88,692.45 211.30,693.10 209.99,693.19 C208.69,693.28 207.29,692.73 206.08,692.07 C204.87,691.42 203.56,690.40 202.72,689.28 C201.89,688.16 201.51,687.13 201.05,685.36 C200.58,683.59 200.02,680.70 199.93,678.65 C199.84,676.60 200.39,674.00 200.49,673.06" fill="none" stroke="#fff" stroke-width="0.35" stroke-opacity="0.12"/>
<ellipse cx="242.9" cy="652.5" rx="1.9" ry="1.0" fill="#fff"/>
<ellipse cx="211.9" cy="658.2" rx="0.7" ry="1.0" fill="#fff"/>
<ellipse cx="210.2" cy="669.7" rx="0.6" ry="0.8" fill="#fff"/>
<ellipse cx="209.6" cy="686" rx="0.6" ry="0.8" fill="#fff"/>
<path d="M206.1,683.8h0.7M206.9,657.3h0.7M198.0,654.9h0.7M188.8,710.3h0.7M211.3,702.4h0.7M183.1,690.0h0.7M194.7,675.4h0.7M208.7,642.2h0.7M197.1,679.3h0.7M216.2,676.4h0.7M195.1,682.9h0.7M205.2,660.8h0.7M203.8,659.6h0.7M183.4,662.1h0.7M186.3,674.9h0.7M202.0,701.8h0.7M211.4,693.2h0.7M220.6,658.8h0.7M197.2,656.4h0.7M186.9,676.6h0.7M202.4,649.2h0.7M218.1,709.5h0.7M185.6,640.2h0.7M185.3,692.0h0.7M215.4,644.7h0.7M183.3,678.2h0.7M195.6,641.3h0.7M183.3,655.0h0.7M190.6,661.0h0.7M203.9,657.8h0.7M191.9,655.0h0.7M216.7,656.9h0.7M204.1,672.1h0.7M195.6,668.9h0.7M183.6,653.1h0.7M207.3,694.1h0.7M191.3,652.5h0.7M217.4,646.9h0.7M213.2,702.3h0.7M188.6,699.1h0.7M188.7,643.1h0.7M193.9,664.4h0.7M205.4,671.4h0.7M213.2,687.2h0.7M187.5,654.4h0.7M211.4,648.2h0.7M219.2,697.6h0.7M191.4,660.3h0.7M192.6,670.0h0.7M192.4,642.3h0.7M192.6,653.8h0.7M196.3,672.3h0.7M216.2,686.8h0.7M206.4,701.4h0.7M197.7,670.3h0.7M192.3,698.9h0.7M216.3,704.7h0.7M206.0,648.1h0.7M185.7,696.6h0.7M216.6,677.8h0.7M218.0,706.1h0.7M211.7,666.3h0.7M200.3,665.0h0.7M198.0,673.5h0.7M183.7,649.0h0.7M189.4,680.2h0.7M216.1,690.5h0.7M188.7,672.5h0.7M206.8,649.6h0.7M186.0,683.5h0.7M191.9,685.8h0.7M189.5,700.8h0.7M194.8,670.4h0.7M203.9,702.9h0.7M217.8,700.0h0.7M209.0,644.9h0.7M190.1,678.0h0.7M220.4,691.6h0.7M190.3,665.3h0.7M219.6,676.0h0.7M216.1,700.9h0.7M212.7,684.5h0.7M208.3,664.3h0.7M187.6,707.3h0.7M184.2,659.2h0.7M206.3,708.5h0.7M191.0,657.5h0.7M215.2,663.2h0.7M198.3,665.5h0.7M184.9,706.9h0.7M209.5,640.5h0.7M186.7,649.6h0.7M197.0,703.2h0.7M188.4,656.2h0.7M194.8,676.3h0.7M217.2,678.3h0.7M217.3,678.5h0.7M199.4,701.9h0.7M205.1,673.7h0.7M202.5,665.2h0.7M199.5,645.3h0.7M190.8,694.2h0.7M188.1,654.8h0.7M189.2,665.8h0.7M184.9,665.6h0.7M206.2,688.1h0.7M216.0,646.2h0.7M207.5,653.9h0.7M196.0,680.8h0.7M214.8,687.6h0.7M220.4,641.3h0.7M195.0,674.1h0.7M184.4,643.7h0.7M196.9,679.7h0.7M188.1,644.8h0.7M195.1,692.6h0.7M204.6,710.8h0.7M206.0,703.2h0.7M204.8,674.1h0.7M198.8,645.1h0.7M185.4,686.7h0.7M215.6,641.4h0.7M189.8,663.3h0.7M194.9,699.2h0.7M192.6,661.7h0.7M201.5,707.5h0.7M194.2,685.0h0.7M184.8,670.6h0.7M218.2,655.4h0.7M196.5,686.4h0.7M204.5,680.9h0.7M206.1,688.0h0.7M195.3,665.0h0.7M198.1,677.1h0.7M204.5,702.1h0.7M198.0,671.9h0.7M214.6,708.9h0.7M192.2,691.9h0.7M192.4,692.6h0.7M184.5,676.0h0.7" stroke="#000" stroke-width="0.7" stroke-opacity="0.22"/>
<rect x="180.6" y="628.5" width="84.6" height="84.70000000000005" fill="none" stroke="#000" stroke-width="2.0"/>
<line x1="221.9" y1="628.5" x2="221.9" y2="713.2" stroke="#000" stroke-width="2.0"/>
<line x1="180.6" y1="679.7" x2="265.2" y2="679.7" stroke="#000" stroke-width="2.0"/>
<text x="182.7" y="641.0" text-anchor="start" style="font-size:13.5px;" fill="#000">39</text>
<text x="262.5" y="641.0" text-anchor="end" style="font-size:13.5px;" fill="#000">44</text>
<text x="262.5" y="709.6" text-anchor="end" style="font-size:13.5px;" fill="#000">0</text>
<line x1="178.1" y1="636.3" x2="180.6" y2="636.3" stroke="#000" stroke-width="1.2"/>
<text x="177.6" y="638.5999999999999" text-anchor="end" style="font-size:6.8px;" fill="#444" class="lt">10<tspan font-size="60%" baseline-shift="super">5</tspan></text>
<line x1="178.1" y1="656.5" x2="180.6" y2="656.5" stroke="#000" stroke-width="1.2"/>
<text x="177.6" y="658.8" text-anchor="end" style="font-size:6.8px;" fill="#444" class="lt">10<tspan font-size="60%" baseline-shift="super">4</tspan></text>
<line x1="178.1" y1="676.5" x2="180.6" y2="676.5" stroke="#000" stroke-width="1.2"/>
<text x="177.6" y="678.8" text-anchor="end" style="font-size:6.8px;" fill="#444" class="lt">10<tspan font-size="60%" baseline-shift="super">3</tspan></text>
<line x1="178.1" y1="700.4" x2="180.6" y2="700.4" stroke="#000" stroke-width="1.2"/>
<text x="177.6" y="702.6999999999999" text-anchor="end" style="font-size:6.8px;" fill="#444" class="lt">0</text>
<line x1="180.4" y1="713.2" x2="180.4" y2="715.7" stroke="#000" stroke-width="1.2"/>
<text x="180.4" y="721.5" text-anchor="middle" style="font-size:6.8px;" fill="#444" class="lt">10<tspan font-size="60%" baseline-shift="super">3</tspan></text>
<line x1="195.5" y1="713.2" x2="195.5" y2="715.7" stroke="#000" stroke-width="1.2"/>
<text x="195.5" y="721.5" text-anchor="middle" style="font-size:6.8px;" fill="#444" class="lt">0</text>
<line x1="211.7" y1="713.2" x2="211.7" y2="715.7" stroke="#000" stroke-width="1.2"/>
<text x="211.7" y="721.5" text-anchor="middle" style="font-size:6.8px;" fill="#444" class="lt">10<tspan font-size="60%" baseline-shift="super">3</tspan></text>
<line x1="231.3" y1="713.2" x2="231.3" y2="715.7" stroke="#000" stroke-width="1.2"/>
<text x="231.3" y="721.5" text-anchor="middle" style="font-size:6.8px;" fill="#444" class="lt">10<tspan font-size="60%" baseline-shift="super">4</tspan></text>
<line x1="249.8" y1="713.2" x2="249.8" y2="715.7" stroke="#000" stroke-width="1.2"/>
<text x="249.8" y="721.5" text-anchor="middle" style="font-size:6.8px;" fill="#444" class="lt">10<tspan font-size="60%" baseline-shift="super">5</tspan></text>
<path d="M93.06,782.88 C93.75,782.33 95.40,780.40 97.19,779.57 C98.98,778.75 101.60,778.25 103.81,777.92 C106.01,777.59 108.22,777.53 110.42,777.59 C112.63,777.64 115.24,777.64 117.04,778.25 C118.83,778.86 120.29,779.90 121.17,781.23 C122.05,782.55 122.52,784.67 122.33,786.19 C122.13,787.70 121.03,789.22 120.01,790.32 C118.99,791.42 117.12,791.56 116.21,792.80 C115.30,794.04 115.24,796.25 114.55,797.76 C113.87,799.28 113.31,800.85 112.07,801.90 C110.83,802.94 109.04,803.63 107.11,804.05 C105.18,804.46 102.57,804.60 100.50,804.38 C98.43,804.16 96.14,803.83 94.71,802.72 C93.28,801.62 92.37,799.69 91.90,797.76 C91.43,795.83 91.71,793.63 91.90,791.15 C92.09,788.67 92.17,784.81 93.06,782.88 C93.94,780.95 95.40,780.40 97.19,779.57 C98.98,778.75 102.70,778.19 103.81,777.92" fill="none" stroke="#000" stroke-width="0.85"/>
<path d="M93.91,783.35 C94.55,782.83 96.10,781.03 97.77,780.26 C99.45,779.49 101.89,779.02 103.95,778.72 C106.01,778.41 108.07,778.35 110.13,778.41 C112.19,778.46 114.63,778.46 116.31,779.02 C117.98,779.59 119.35,780.57 120.17,781.80 C120.99,783.04 121.43,785.02 121.25,786.44 C121.07,787.85 120.04,789.27 119.09,790.30 C118.14,791.33 116.39,791.46 115.54,792.62 C114.69,793.78 114.63,795.84 113.99,797.25 C113.35,798.67 112.83,800.13 111.67,801.11 C110.52,802.09 108.84,802.74 107.04,803.12 C105.24,803.51 102.79,803.64 100.86,803.43 C98.93,803.22 96.79,802.92 95.45,801.89 C94.12,800.86 93.27,799.05 92.83,797.25 C92.39,795.45 92.65,793.39 92.83,791.07 C93.01,788.76 93.09,785.15 93.91,783.35 C94.73,781.55 96.10,781.03 97.77,780.26 C99.45,779.49 102.92,778.97 103.95,778.72" fill="none" stroke="#000" stroke-width="0.85"/>
<path d="M94.76,783.82 C95.36,783.34 96.80,781.67 98.35,780.95 C99.91,780.23 102.18,779.80 104.10,779.51 C106.01,779.22 107.92,779.18 109.84,779.22 C111.75,779.27 114.02,779.27 115.58,779.80 C117.14,780.33 118.40,781.23 119.17,782.38 C119.94,783.53 120.34,785.37 120.17,786.69 C120.01,788.01 119.05,789.32 118.16,790.28 C117.28,791.24 115.65,791.36 114.86,792.43 C114.07,793.51 114.02,795.42 113.43,796.74 C112.83,798.06 112.35,799.42 111.27,800.33 C110.20,801.24 108.64,801.84 106.97,802.20 C105.29,802.55 103.02,802.67 101.22,802.48 C99.43,802.29 97.44,802.00 96.20,801.05 C94.95,800.09 94.17,798.41 93.76,796.74 C93.35,795.06 93.59,793.15 93.76,791.00 C93.93,788.84 94.00,785.49 94.76,783.82 C95.53,782.14 96.80,781.67 98.35,780.95 C99.91,780.23 103.14,779.75 104.10,779.51" fill="none" stroke="#000" stroke-width="0.85"/>
<path d="M95.62,784.29 C96.17,783.85 97.50,782.30 98.93,781.64 C100.37,780.97 102.47,780.57 104.24,780.31 C106.01,780.04 107.78,780.00 109.55,780.04 C111.32,780.09 113.42,780.09 114.85,780.57 C116.29,781.06 117.46,781.90 118.17,782.96 C118.88,784.02 119.25,785.73 119.10,786.94 C118.94,788.16 118.06,789.37 117.24,790.26 C116.42,791.14 114.92,791.25 114.19,792.25 C113.46,793.24 113.42,795.01 112.86,796.23 C112.31,797.44 111.87,798.70 110.87,799.54 C109.88,800.38 108.44,800.94 106.89,801.27 C105.35,801.60 103.24,801.71 101.59,801.53 C99.93,801.36 98.09,801.09 96.94,800.21 C95.79,799.32 95.06,797.78 94.69,796.23 C94.31,794.68 94.53,792.91 94.69,790.92 C94.84,788.93 94.91,785.84 95.62,784.29 C96.32,782.74 97.50,782.30 98.93,781.64 C100.37,780.97 103.36,780.53 104.24,780.31" fill="#050505" stroke="#000" stroke-width="0.85"/>
<path d="M96.51,784.78 C97.02,784.38 98.23,782.96 99.54,782.36 C100.86,781.75 102.78,781.39 104.39,781.15 C106.01,780.90 107.62,780.86 109.24,780.90 C110.86,780.94 112.77,780.94 114.09,781.39 C115.40,781.83 116.47,782.60 117.12,783.57 C117.76,784.54 118.11,786.10 117.96,787.21 C117.82,788.32 117.02,789.43 116.27,790.24 C115.52,791.04 114.15,791.14 113.48,792.05 C112.81,792.96 112.77,794.58 112.27,795.69 C111.76,796.80 111.36,797.95 110.45,798.72 C109.54,799.49 108.23,799.99 106.82,800.29 C105.40,800.60 103.48,800.70 101.97,800.54 C100.45,800.37 98.78,800.13 97.73,799.32 C96.68,798.52 96.01,797.10 95.67,795.69 C95.32,794.28 95.53,792.66 95.67,790.84 C95.81,789.02 95.87,786.20 96.51,784.78 C97.16,783.37 98.23,782.96 99.54,782.36 C100.86,781.75 103.58,781.35 104.39,781.15" fill="none" stroke="#fff" stroke-width="0.35" stroke-opacity="0.12"/>
<path d="M97.41,785.28 C97.87,784.91 98.97,783.63 100.16,783.08 C101.34,782.53 103.08,782.20 104.54,781.99 C106.01,781.77 107.47,781.73 108.93,781.77 C110.40,781.80 112.13,781.80 113.32,782.20 C114.51,782.61 115.48,783.30 116.06,784.18 C116.65,785.06 116.96,786.47 116.83,787.47 C116.70,788.48 115.97,789.48 115.30,790.21 C114.62,790.94 113.38,791.04 112.77,791.86 C112.17,792.68 112.13,794.14 111.68,795.15 C111.22,796.16 110.85,797.20 110.03,797.89 C109.21,798.59 108.02,799.04 106.74,799.32 C105.46,799.59 103.72,799.68 102.35,799.54 C100.98,799.39 99.46,799.17 98.51,798.44 C97.56,797.71 96.96,796.43 96.65,795.15 C96.33,793.87 96.52,792.41 96.65,790.76 C96.77,789.12 96.83,786.56 97.41,785.28 C98.00,784.00 98.97,783.63 100.16,783.08 C101.34,782.53 103.81,782.17 104.54,781.99" fill="none" stroke="#fff" stroke-width="0.35" stroke-opacity="0.12"/>
<path d="M98.31,785.77 C98.72,785.44 99.70,784.30 100.77,783.81 C101.83,783.31 103.39,783.02 104.70,782.82 C106.01,782.63 107.32,782.59 108.63,782.63 C109.94,782.66 111.49,782.66 112.56,783.02 C113.62,783.38 114.49,784.00 115.01,784.79 C115.53,785.57 115.81,786.83 115.70,787.74 C115.58,788.64 114.93,789.54 114.32,790.19 C113.72,790.85 112.60,790.93 112.06,791.66 C111.52,792.40 111.49,793.71 111.08,794.61 C110.67,795.51 110.34,796.45 109.61,797.07 C108.87,797.69 107.81,798.10 106.66,798.34 C105.52,798.59 103.96,798.67 102.73,798.54 C101.50,798.41 100.15,798.21 99.29,797.56 C98.44,796.90 97.90,795.76 97.62,794.61 C97.35,793.47 97.51,792.16 97.62,790.68 C97.74,789.21 97.79,786.92 98.31,785.77 C98.84,784.62 99.70,784.30 100.77,783.81 C101.83,783.31 104.04,782.99 104.70,782.82" fill="none" stroke="#fff" stroke-width="0.35" stroke-opacity="0.12"/>
<path d="M99.21,786.26 C99.57,785.98 100.44,784.96 101.38,784.53 C102.32,784.10 103.69,783.84 104.85,783.66 C106.01,783.49 107.16,783.46 108.32,783.49 C109.48,783.52 110.85,783.52 111.79,783.84 C112.73,784.15 113.50,784.70 113.96,785.40 C114.42,786.09 114.67,787.20 114.57,788.00 C114.46,788.80 113.89,789.59 113.35,790.17 C112.82,790.75 111.83,790.82 111.36,791.47 C110.88,792.12 110.85,793.28 110.49,794.07 C110.13,794.87 109.84,795.69 109.19,796.24 C108.54,796.79 107.60,797.15 106.58,797.37 C105.57,797.59 104.20,797.66 103.11,797.54 C102.03,797.43 100.83,797.25 100.08,796.68 C99.33,796.10 98.85,795.08 98.60,794.07 C98.36,793.06 98.50,791.90 98.60,790.60 C98.70,789.30 98.75,787.28 99.21,786.26 C99.67,785.25 100.44,784.96 101.38,784.53 C102.32,784.10 104.27,783.81 104.85,783.66" fill="none" stroke="#fff" stroke-width="0.35" stroke-opacity="0.12"/>
<ellipse cx="105.5" cy="788.3" rx="0.8" ry="1.1" fill="#fff"/>
<rect x="79.8" y="724.9" width="85.00000000000001" height="84.70000000000005" fill="none" stroke="#000" stroke-width="2.0"/>
<line x1="121.1" y1="724.9" x2="121.1" y2="809.6" stroke="#000" stroke-width="2.0"/>
<line x1="79.8" y1="776.9" x2="164.8" y2="776.9" stroke="#000" stroke-width="2.0"/>
<text x="82.3" y="736.9" text-anchor="start" style="font-size:13.5px;" fill="#000">0</text>
<text x="161.2" y="736.9" text-anchor="end" style="font-size:13.5px;" fill="#000">0</text>
<text x="161.2" y="807.9" text-anchor="end" style="font-size:13.5px;" fill="#000">0</text>
<line x1="77.3" y1="732.3" x2="79.8" y2="732.3" stroke="#000" stroke-width="1.2"/>
<text x="76.8" y="734.5999999999999" text-anchor="end" style="font-size:6.8px;" fill="#444" class="lt">10<tspan font-size="60%" baseline-shift="super">5</tspan></text>
<line x1="77.3" y1="751.9" x2="79.8" y2="751.9" stroke="#000" stroke-width="1.2"/>
<text x="76.8" y="754.1999999999999" text-anchor="end" style="font-size:6.8px;" fill="#444" class="lt">10<tspan font-size="60%" baseline-shift="super">4</tspan></text>
<line x1="77.3" y1="772.2" x2="79.8" y2="772.2" stroke="#000" stroke-width="1.2"/>
<text x="76.8" y="774.5" text-anchor="end" style="font-size:6.8px;" fill="#444" class="lt">10<tspan font-size="60%" baseline-shift="super">3</tspan></text>
<line x1="77.3" y1="796.2" x2="79.8" y2="796.2" stroke="#000" stroke-width="1.2"/>
<text x="76.8" y="798.5" text-anchor="end" style="font-size:6.8px;" fill="#444" class="lt">0</text>
<line x1="79.6" y1="809.6" x2="79.6" y2="812.1" stroke="#000" stroke-width="1.2"/>
<text x="79.6" y="817.8" text-anchor="middle" style="font-size:6.8px;" fill="#444" class="lt">10<tspan font-size="60%" baseline-shift="super">3</tspan></text>
<line x1="94.6" y1="809.6" x2="94.6" y2="812.1" stroke="#000" stroke-width="1.2"/>
<text x="94.6" y="817.8" text-anchor="middle" style="font-size:6.8px;" fill="#444" class="lt">0</text>
<line x1="110.8" y1="809.6" x2="110.8" y2="812.1" stroke="#000" stroke-width="1.2"/>
<text x="110.8" y="817.8" text-anchor="middle" style="font-size:6.8px;" fill="#444" class="lt">10<tspan font-size="60%" baseline-shift="super">3</tspan></text>
<line x1="132.2" y1="809.6" x2="132.2" y2="812.1" stroke="#000" stroke-width="1.2"/>
<text x="132.2" y="817.8" text-anchor="middle" style="font-size:6.8px;" fill="#444" class="lt">10<tspan font-size="60%" baseline-shift="super">4</tspan></text>
<line x1="148.9" y1="809.6" x2="148.9" y2="812.1" stroke="#000" stroke-width="1.2"/>
<text x="148.9" y="817.8" text-anchor="middle" style="font-size:6.8px;" fill="#444" class="lt">10<tspan font-size="60%" baseline-shift="super">5</tspan></text>
<path d="M186.61,782.88 C186.89,782.11 187.17,779.49 188.27,778.25 C189.37,777.01 191.93,776.46 193.23,775.44 C194.53,774.42 195.63,774.06 196.04,772.13 C196.45,770.20 195.63,766.21 195.71,763.86 C195.79,761.52 195.57,760.00 196.54,758.07 C197.50,756.14 199.43,754.22 201.50,752.29 C203.57,750.36 206.18,748.01 208.94,746.50 C211.70,744.98 215.14,744.16 218.04,743.19 C220.93,742.23 223.82,741.67 226.30,740.71 C228.78,739.75 230.16,738.23 232.92,737.40 C235.67,736.58 239.53,735.89 242.84,735.75 C246.15,735.61 250.14,735.89 252.76,736.58 C255.38,737.27 257.72,738.23 258.55,739.88 C259.38,741.54 258.69,744.16 257.72,746.50 C256.76,748.84 254.69,751.74 252.76,753.94 C250.83,756.14 248.90,757.94 246.15,759.73 C243.39,761.52 238.98,763.26 236.23,764.69 C233.47,766.12 231.95,767.50 229.61,768.33 C227.27,769.15 223.77,768.88 222.17,769.65 C220.57,770.42 220.30,770.75 220.02,772.96 C219.74,775.16 220.57,779.85 220.52,782.88 C220.46,785.91 220.38,788.67 219.69,791.15 C219.00,793.63 217.76,796.11 216.38,797.76 C215.00,799.42 213.35,800.52 211.42,801.07 C209.49,801.62 206.74,801.62 204.81,801.07 C202.88,800.52 201.08,799.42 199.84,797.76 C198.60,796.11 198.19,793.02 197.36,791.15 C196.54,789.27 196.12,787.57 194.88,786.52 C193.64,785.47 191.30,785.47 189.92,784.86 C188.54,784.26 186.89,783.98 186.61,782.88 C186.34,781.78 187.17,779.49 188.27,778.25 C189.37,777.01 192.40,775.91 193.23,775.44" fill="none" stroke="#000" stroke-width="0.85"/>
<path d="M187.67,782.38 C187.94,781.63 188.20,779.10 189.27,777.91 C190.33,776.71 192.81,776.17 194.06,775.19 C195.31,774.20 196.38,773.86 196.78,771.99 C197.18,770.13 196.38,766.27 196.46,764.00 C196.54,761.74 196.33,760.27 197.26,758.41 C198.19,756.54 200.05,754.68 202.05,752.81 C204.05,750.95 206.58,748.69 209.24,747.22 C211.91,745.76 215.24,744.96 218.03,744.02 C220.83,743.09 223.63,742.56 226.03,741.63 C228.42,740.69 229.75,739.23 232.42,738.43 C235.08,737.63 238.81,736.97 242.01,736.83 C245.20,736.70 249.07,736.97 251.60,737.63 C254.13,738.30 256.39,739.23 257.19,740.83 C257.99,742.43 257.32,744.96 256.39,747.22 C255.46,749.48 253.46,752.28 251.60,754.41 C249.73,756.54 247.87,758.27 245.20,760.01 C242.54,761.74 238.28,763.42 235.61,764.80 C232.95,766.19 231.49,767.52 229.22,768.32 C226.96,769.12 223.57,768.85 222.03,769.59 C220.48,770.34 220.22,770.66 219.95,772.79 C219.69,774.92 220.48,779.45 220.43,782.38 C220.38,785.31 220.30,787.97 219.63,790.37 C218.97,792.77 217.77,795.17 216.44,796.76 C215.10,798.36 213.51,799.43 211.64,799.96 C209.78,800.49 207.11,800.49 205.25,799.96 C203.38,799.43 201.65,798.36 200.45,796.76 C199.26,795.17 198.86,792.18 198.06,790.37 C197.26,788.56 196.86,786.91 195.66,785.90 C194.46,784.88 192.20,784.88 190.87,784.30 C189.53,783.71 187.94,783.45 187.67,782.38 C187.40,781.31 188.20,779.10 189.27,777.91 C190.33,776.71 193.26,775.64 194.06,775.19" fill="none" stroke="#000" stroke-width="0.85"/>
<path d="M188.72,781.88 C188.98,781.16 189.24,778.72 190.27,777.56 C191.29,776.40 193.68,775.89 194.89,774.94 C196.10,773.99 197.13,773.65 197.52,771.85 C197.90,770.05 197.13,766.33 197.21,764.14 C197.28,761.95 197.08,760.54 197.98,758.74 C198.88,756.94 200.68,755.14 202.61,753.34 C204.53,751.54 206.98,749.36 209.55,747.94 C212.12,746.53 215.33,745.76 218.03,744.86 C220.73,743.96 223.43,743.44 225.75,742.54 C228.06,741.64 229.35,740.23 231.92,739.46 C234.49,738.69 238.09,738.04 241.17,737.91 C244.26,737.79 247.99,738.04 250.43,738.69 C252.87,739.33 255.06,740.23 255.83,741.77 C256.60,743.31 255.96,745.76 255.06,747.94 C254.16,750.13 252.23,752.83 250.43,754.88 C248.63,756.94 246.83,758.61 244.26,760.28 C241.69,761.95 237.57,763.57 235.00,764.91 C232.43,766.25 231.02,767.53 228.83,768.31 C226.65,769.08 223.38,768.82 221.89,769.54 C220.40,770.26 220.14,770.57 219.88,772.62 C219.63,774.68 220.40,779.05 220.35,781.88 C220.30,784.71 220.22,787.28 219.58,789.59 C218.93,791.91 217.78,794.22 216.49,795.76 C215.20,797.31 213.66,798.34 211.86,798.85 C210.06,799.36 207.49,799.36 205.69,798.85 C203.89,798.34 202.22,797.31 201.06,795.76 C199.91,794.22 199.52,791.34 198.75,789.59 C197.98,787.85 197.59,786.25 196.44,785.27 C195.28,784.30 193.09,784.30 191.81,783.73 C190.52,783.17 188.98,782.91 188.72,781.88 C188.47,780.85 189.24,778.72 190.27,777.56 C191.29,776.40 194.12,775.38 194.89,774.94" fill="none" stroke="#000" stroke-width="0.85"/>
<path d="M189.78,781.38 C190.02,780.69 190.27,778.33 191.26,777.22 C192.25,776.10 194.56,775.61 195.72,774.69 C196.89,773.77 197.88,773.45 198.25,771.71 C198.62,769.98 197.88,766.39 197.96,764.28 C198.03,762.17 197.83,760.81 198.70,759.07 C199.57,757.34 201.30,755.60 203.16,753.87 C205.02,752.13 207.37,750.03 209.85,748.66 C212.33,747.30 215.43,746.56 218.03,745.69 C220.63,744.82 223.24,744.33 225.47,743.46 C227.70,742.59 228.94,741.23 231.42,740.48 C233.89,739.74 237.36,739.12 240.34,739.00 C243.31,738.87 246.91,739.12 249.26,739.74 C251.62,740.36 253.72,741.23 254.47,742.72 C255.21,744.20 254.59,746.56 253.72,748.66 C252.86,750.77 251.00,753.37 249.26,755.36 C247.53,757.34 245.79,758.95 243.31,760.56 C240.83,762.17 236.87,763.73 234.39,765.02 C231.91,766.31 230.55,767.55 228.44,768.29 C226.33,769.04 223.19,768.79 221.75,769.48 C220.31,770.18 220.06,770.48 219.82,772.46 C219.57,774.44 220.31,778.65 220.26,781.38 C220.21,784.11 220.14,786.59 219.52,788.82 C218.90,791.05 217.78,793.28 216.54,794.77 C215.31,796.25 213.82,797.24 212.08,797.74 C210.35,798.24 207.87,798.24 206.13,797.74 C204.40,797.24 202.79,796.25 201.67,794.77 C200.56,793.28 200.19,790.50 199.44,788.82 C198.70,787.13 198.33,785.59 197.21,784.65 C196.10,783.71 193.99,783.71 192.75,783.17 C191.51,782.62 190.02,782.37 189.78,781.38 C189.53,780.39 190.27,778.33 191.26,777.22 C192.25,776.10 194.98,775.11 195.72,774.69" fill="#050505" stroke="#000" stroke-width="0.85"/>
<path d="M191.11,780.75 C191.34,780.09 191.58,777.85 192.52,776.78 C193.47,775.72 195.67,775.25 196.78,774.37 C197.89,773.50 198.83,773.19 199.18,771.54 C199.54,769.89 198.83,766.46 198.90,764.45 C198.97,762.45 198.78,761.15 199.61,759.50 C200.44,757.84 202.09,756.19 203.86,754.54 C205.63,752.88 207.88,750.88 210.24,749.58 C212.60,748.28 215.55,747.57 218.03,746.74 C220.51,745.92 222.99,745.44 225.12,744.62 C227.24,743.79 228.42,742.49 230.78,741.78 C233.14,741.07 236.45,740.48 239.29,740.37 C242.12,740.25 245.54,740.48 247.79,741.07 C250.03,741.66 252.04,742.49 252.75,743.91 C253.46,745.33 252.86,747.57 252.04,749.58 C251.21,751.58 249.44,754.06 247.79,755.95 C246.13,757.84 244.48,759.38 242.12,760.91 C239.76,762.45 235.98,763.93 233.62,765.16 C231.26,766.39 229.96,767.57 227.95,768.28 C225.94,768.99 222.94,768.75 221.57,769.41 C220.20,770.08 219.97,770.36 219.73,772.25 C219.49,774.14 220.20,778.15 220.16,780.75 C220.11,783.35 220.04,785.71 219.45,787.83 C218.86,789.96 217.79,792.09 216.61,793.50 C215.43,794.92 214.02,795.86 212.36,796.34 C210.71,796.81 208.35,796.81 206.69,796.34 C205.04,795.86 203.51,794.92 202.44,793.50 C201.38,792.09 201.03,789.44 200.32,787.83 C199.61,786.23 199.26,784.76 198.19,783.87 C197.13,782.97 195.12,782.97 193.94,782.45 C192.76,781.93 191.34,781.69 191.11,780.75 C190.87,779.81 191.58,777.85 192.52,776.78 C193.47,775.72 196.07,774.77 196.78,774.37" fill="none" stroke="#fff" stroke-width="0.35" stroke-opacity="0.12"/>
<path d="M192.44,780.12 C192.66,779.49 192.89,777.36 193.79,776.35 C194.68,775.34 196.77,774.89 197.83,774.06 C198.88,773.23 199.78,772.94 200.12,771.36 C200.45,769.79 199.78,766.54 199.85,764.63 C199.91,762.72 199.73,761.49 200.52,759.92 C201.31,758.34 202.88,756.77 204.56,755.20 C206.24,753.63 208.38,751.72 210.62,750.49 C212.87,749.25 215.67,748.58 218.03,747.79 C220.39,747.01 222.74,746.56 224.76,745.77 C226.78,744.99 227.91,743.75 230.15,743.08 C232.40,742.41 235.54,741.85 238.23,741.73 C240.93,741.62 244.18,741.85 246.31,742.41 C248.45,742.97 250.35,743.75 251.03,745.10 C251.70,746.45 251.14,748.58 250.35,750.49 C249.57,752.40 247.88,754.75 246.31,756.55 C244.74,758.34 243.17,759.80 240.93,761.26 C238.68,762.72 235.09,764.14 232.84,765.30 C230.60,766.47 229.36,767.59 227.46,768.27 C225.55,768.94 222.70,768.72 221.40,769.34 C220.09,769.97 219.87,770.24 219.65,772.04 C219.42,773.83 220.09,777.65 220.05,780.12 C220.00,782.59 219.94,784.83 219.38,786.85 C218.81,788.87 217.80,790.89 216.68,792.24 C215.56,793.59 214.21,794.49 212.64,794.93 C211.07,795.38 208.83,795.38 207.25,794.93 C205.68,794.49 204.22,793.59 203.21,792.24 C202.20,790.89 201.87,788.38 201.19,786.85 C200.52,785.33 200.18,783.93 199.17,783.08 C198.16,782.23 196.25,782.23 195.13,781.74 C194.01,781.24 192.66,781.02 192.44,780.12 C192.21,779.22 192.89,777.36 193.79,776.35 C194.68,775.34 197.15,774.44 197.83,774.06" fill="none" stroke="#fff" stroke-width="0.35" stroke-opacity="0.12"/>
<path d="M193.77,779.49 C193.98,778.89 194.20,776.87 195.05,775.91 C195.90,774.96 197.88,774.53 198.88,773.74 C199.88,772.96 200.73,772.68 201.05,771.19 C201.37,769.70 200.73,766.61 200.79,764.81 C200.86,763.00 200.69,761.83 201.43,760.34 C202.17,758.85 203.66,757.36 205.26,755.87 C206.86,754.38 208.88,752.57 211.01,751.40 C213.13,750.23 215.79,749.59 218.03,748.85 C220.26,748.10 222.50,747.68 224.41,746.93 C226.33,746.19 227.39,745.02 229.52,744.38 C231.65,743.74 234.62,743.21 237.18,743.10 C239.73,743.00 242.82,743.21 244.84,743.74 C246.86,744.27 248.67,745.02 249.31,746.29 C249.95,747.57 249.41,749.59 248.67,751.40 C247.92,753.21 246.33,755.44 244.84,757.15 C243.35,758.85 241.86,760.23 239.73,761.61 C237.60,763.00 234.20,764.34 232.07,765.44 C229.94,766.55 228.77,767.61 226.96,768.25 C225.16,768.89 222.45,768.68 221.22,769.27 C219.98,769.87 219.77,770.13 219.56,771.83 C219.35,773.53 219.98,777.15 219.94,779.49 C219.90,781.83 219.84,783.96 219.30,785.87 C218.77,787.79 217.81,789.70 216.75,790.98 C215.69,792.25 214.41,793.11 212.92,793.53 C211.43,793.96 209.30,793.96 207.81,793.53 C206.32,793.11 204.94,792.25 203.98,790.98 C203.03,789.70 202.71,787.32 202.07,785.87 C201.43,784.42 201.11,783.11 200.15,782.30 C199.20,781.49 197.39,781.49 196.32,781.02 C195.26,780.55 193.98,780.34 193.77,779.49 C193.56,778.64 194.20,776.87 195.05,775.91 C195.90,774.96 198.24,774.10 198.88,773.74" fill="none" stroke="#fff" stroke-width="0.35" stroke-opacity="0.12"/>
<path d="M195.10,778.86 C195.30,778.29 195.50,776.38 196.31,775.48 C197.11,774.57 198.98,774.17 199.93,773.43 C200.87,772.68 201.68,772.42 201.98,771.01 C202.28,769.61 201.68,766.69 201.74,764.98 C201.80,763.27 201.64,762.17 202.34,760.76 C203.04,759.35 204.45,757.94 205.96,756.54 C207.47,755.13 209.38,753.42 211.39,752.31 C213.40,751.21 215.91,750.60 218.03,749.90 C220.14,749.20 222.25,748.79 224.06,748.09 C225.87,747.39 226.87,746.28 228.88,745.68 C230.90,745.07 233.71,744.57 236.12,744.47 C238.54,744.37 241.45,744.57 243.36,745.07 C245.27,745.58 246.98,746.28 247.59,747.49 C248.19,748.69 247.69,750.60 246.98,752.31 C246.28,754.02 244.77,756.13 243.36,757.74 C241.96,759.35 240.55,760.66 238.54,761.96 C236.53,763.27 233.31,764.54 231.30,765.58 C229.29,766.63 228.18,767.64 226.47,768.24 C224.76,768.84 222.21,768.64 221.04,769.20 C219.88,769.77 219.67,770.01 219.47,771.62 C219.27,773.23 219.88,776.64 219.84,778.86 C219.80,781.07 219.74,783.08 219.23,784.89 C218.73,786.70 217.82,788.51 216.82,789.72 C215.81,790.92 214.61,791.73 213.20,792.13 C211.79,792.53 209.78,792.53 208.37,792.13 C206.97,791.73 205.66,790.92 204.75,789.72 C203.85,788.51 203.55,786.26 202.94,784.89 C202.34,783.52 202.04,782.28 201.13,781.51 C200.23,780.75 198.52,780.75 197.51,780.30 C196.51,779.86 195.30,779.66 195.10,778.86 C194.90,778.05 195.50,776.38 196.31,775.48 C197.11,774.57 199.32,773.77 199.93,773.43" fill="none" stroke="#fff" stroke-width="0.35" stroke-opacity="0.12"/>
<path d="M196.43,778.23 C196.62,777.70 196.81,775.90 197.57,775.04 C198.33,774.19 200.09,773.81 200.98,773.11 C201.87,772.41 202.63,772.16 202.91,770.84 C203.19,769.51 202.63,766.77 202.68,765.16 C202.74,763.55 202.59,762.50 203.25,761.18 C203.91,759.85 205.24,758.53 206.66,757.20 C208.08,755.88 209.88,754.27 211.77,753.22 C213.67,752.18 216.04,751.61 218.02,750.95 C220.01,750.29 222.00,749.91 223.71,749.25 C225.41,748.58 226.36,747.54 228.25,746.97 C230.15,746.41 232.80,745.93 235.07,745.84 C237.34,745.74 240.09,745.93 241.89,746.41 C243.69,746.88 245.30,747.54 245.87,748.68 C246.44,749.81 245.96,751.61 245.30,753.22 C244.64,754.83 243.22,756.82 241.89,758.34 C240.56,759.85 239.24,761.08 237.34,762.32 C235.45,763.55 232.42,764.74 230.53,765.72 C228.63,766.71 227.59,767.66 225.98,768.22 C224.37,768.79 221.96,768.60 220.87,769.13 C219.77,769.66 219.58,769.89 219.39,771.41 C219.20,772.92 219.77,776.14 219.73,778.23 C219.69,780.31 219.63,782.20 219.16,783.91 C218.69,785.61 217.83,787.32 216.89,788.45 C215.94,789.59 214.80,790.35 213.48,790.73 C212.15,791.11 210.26,791.11 208.93,790.73 C207.61,790.35 206.38,789.59 205.52,788.45 C204.67,787.32 204.39,785.20 203.82,783.91 C203.25,782.62 202.97,781.45 202.11,780.73 C201.26,780.01 199.65,780.01 198.71,779.59 C197.76,779.17 196.62,778.98 196.43,778.23 C196.24,777.47 196.81,775.90 197.57,775.04 C198.33,774.19 200.41,773.43 200.98,773.11" fill="none" stroke="#fff" stroke-width="0.35" stroke-opacity="0.12"/>
<ellipse cx="243.7" cy="749" rx="2.3" ry="1.8" fill="#fff"/>
<ellipse cx="214.7" cy="759" rx="1.6" ry="1.2" fill="#fff"/>
<ellipse cx="234.6" cy="749.8" rx="0.8" ry="0.6" fill="#fff"/>
<ellipse cx="209.8" cy="786.2" rx="0.7" ry="1.0" fill="#fff"/>
<ellipse cx="214.7" cy="759" rx="0.7" ry="0.5" fill="#000"/>
<path d="M198,770 C205,768 215,769 222,766" fill="none" stroke="#fff" stroke-width="0.6"/>
<path d="M190,778 C193,776 197,776 200,775" fill="none" stroke="#fff" stroke-width="0.6"/>
<rect x="180.6" y="724.9" width="84.6" height="84.70000000000005" fill="none" stroke="#000" stroke-width="2.0"/>
<line x1="221.2" y1="724.9" x2="221.2" y2="809.6" stroke="#000" stroke-width="2.0"/>
<line x1="180.6" y1="776.2" x2="265.2" y2="776.2" stroke="#000" stroke-width="2.0"/>
<text x="181.7" y="737.2" text-anchor="start" style="font-size:13.5px;" fill="#000">24</text>
<text x="262.8" y="737.2" text-anchor="end" style="font-size:13.5px;" fill="#000">52</text>
<text x="261.5" y="807.9" text-anchor="end" style="font-size:13.5px;" fill="#000">1</text>
<line x1="178.1" y1="732.3" x2="180.6" y2="732.3" stroke="#000" stroke-width="1.2"/>
<text x="177.6" y="734.5999999999999" text-anchor="end" style="font-size:6.8px;" fill="#444" class="lt">10<tspan font-size="60%" baseline-shift="super">5</tspan></text>
<line x1="178.1" y1="751.9" x2="180.6" y2="751.9" stroke="#000" stroke-width="1.2"/>
<text x="177.6" y="754.1999999999999" text-anchor="end" style="font-size:6.8px;" fill="#444" class="lt">10<tspan font-size="60%" baseline-shift="super">4</tspan></text>
<line x1="178.1" y1="772.2" x2="180.6" y2="772.2" stroke="#000" stroke-width="1.2"/>
<text x="177.6" y="774.5" text-anchor="end" style="font-size:6.8px;" fill="#444" class="lt">10<tspan font-size="60%" baseline-shift="super">3</tspan></text>
<line x1="178.1" y1="796.2" x2="180.6" y2="796.2" stroke="#000" stroke-width="1.2"/>
<text x="177.6" y="798.5" text-anchor="end" style="font-size:6.8px;" fill="#444" class="lt">0</text>
<line x1="180.4" y1="809.6" x2="180.4" y2="812.1" stroke="#000" stroke-width="1.2"/>
<text x="180.4" y="817.8" text-anchor="middle" style="font-size:6.8px;" fill="#444" class="lt">10<tspan font-size="60%" baseline-shift="super">3</tspan></text>
<line x1="195.5" y1="809.6" x2="195.5" y2="812.1" stroke="#000" stroke-width="1.2"/>
<text x="195.5" y="817.8" text-anchor="middle" style="font-size:6.8px;" fill="#444" class="lt">0</text>
<line x1="211.7" y1="809.6" x2="211.7" y2="812.1" stroke="#000" stroke-width="1.2"/>
<text x="211.7" y="817.8" text-anchor="middle" style="font-size:6.8px;" fill="#444" class="lt">10<tspan font-size="60%" baseline-shift="super">3</tspan></text>
<line x1="232.2" y1="809.6" x2="232.2" y2="812.1" stroke="#000" stroke-width="1.2"/>
<text x="232.2" y="817.8" text-anchor="middle" style="font-size:6.8px;" fill="#444" class="lt">10<tspan font-size="60%" baseline-shift="super">4</tspan></text>
<line x1="249.8" y1="809.6" x2="249.8" y2="812.1" stroke="#000" stroke-width="1.2"/>
<text x="249.8" y="817.8" text-anchor="middle" style="font-size:6.8px;" fill="#444" class="lt">10<tspan font-size="60%" baseline-shift="super">5</tspan></text>
<path d="M58.8,798.8 V828.2 H90" fill="none" stroke="#000" stroke-width="2.0" stroke-linejoin="miter"/>
<path d="M53.8,805.3 L58.8,798.8 L63.8,805.3" fill="none" stroke="#000" stroke-width="2.0"/>
<path d="M82.5,823.2 L90,828.2 L82.5,833.2" fill="none" stroke="#000" stroke-width="2.0"/>
<text x="93.6" y="832.9" text-anchor="start" style="font-size:16.3px;" fill="#000">TNF<tspan font-family="Liberation Serif" font-size="110%">&#945;</tspan></text>
<text x="64.9" y="792.2" text-anchor="start" style="font-size:16.2px;" fill="#000" transform="rotate(-90 64.9 792.2)">IFN<tspan font-size="72%" dy="-0.5">&#947;</tspan></text>
<line x1="315" y1="655.8" x2="315" y2="771.0" stroke="#000" stroke-width="2.0"/>
<line x1="310.5" y1="771.0" x2="315" y2="771.0" stroke="#000" stroke-width="2.0"/>
<text x="309.6" y="776.5" text-anchor="end" style="font-size:15px;" fill="#000">0</text>
<line x1="310.5" y1="748.16" x2="315" y2="748.16" stroke="#000" stroke-width="2.0"/>
<text x="309.6" y="753.66" text-anchor="end" style="font-size:15px;" fill="#000">20</text>
<line x1="310.5" y1="725.32" x2="315" y2="725.32" stroke="#000" stroke-width="2.0"/>
<text x="309.6" y="730.82" text-anchor="end" style="font-size:15px;" fill="#000">40</text>
<line x1="310.5" y1="702.48" x2="315" y2="702.48" stroke="#000" stroke-width="2.0"/>
<text x="309.6" y="707.98" text-anchor="end" style="font-size:15px;" fill="#000">60</text>
<line x1="310.5" y1="679.64" x2="315" y2="679.64" stroke="#000" stroke-width="2.0"/>
<text x="309.6" y="685.14" text-anchor="end" style="font-size:15px;" fill="#000">80</text>
<line x1="310.5" y1="656.8" x2="315" y2="656.8" stroke="#000" stroke-width="2.0"/>
<text x="309.6" y="662.3" text-anchor="end" style="font-size:15px;" fill="#000">100</text>
<line x1="314" y1="771.0" x2="444" y2="771.0" stroke="#000" stroke-width="2.0"/>
<line x1="334" y1="771.0" x2="334" y2="775.5" stroke="#000" stroke-width="2.0"/>
<line x1="378.8" y1="771.0" x2="378.8" y2="775.5" stroke="#000" stroke-width="2.0"/>
<line x1="422.9" y1="771.0" x2="422.9" y2="775.5" stroke="#000" stroke-width="2.0"/>
<line x1="326.4" y1="687.8624" x2="326.4" y2="680.211" stroke="#000" stroke-width="1.8"/>
<line x1="323.2" y1="680.211" x2="329.59999999999997" y2="680.211" stroke="#000" stroke-width="1.8"/>
<rect x="321.8" y="687.8624" width="9.199999999999989" height="83.13760000000002" fill="#7f7f7f" stroke="#000" stroke-width="2.0"/>
<line x1="326.4" y1="687.8624" x2="326.4" y2="695.5138" stroke="#000" stroke-width="1.8"/>
<line x1="323.2" y1="695.5138" x2="329.59999999999997" y2="695.5138" stroke="#000" stroke-width="1.8"/>
<line x1="342.5" y1="687.5198" x2="342.5" y2="678.1554" stroke="#000" stroke-width="1.8"/>
<line x1="339.3" y1="678.1554" x2="345.7" y2="678.1554" stroke="#000" stroke-width="1.8"/>
<rect x="338.1" y="687.5198" width="8.799999999999955" height="83.48019999999997" fill="#fff" stroke="#000" stroke-width="2.0"/>
<line x1="342.5" y1="687.5198" x2="342.5" y2="696.8842000000001" stroke="#000" stroke-width="1.8"/>
<line x1="339.3" y1="696.8842000000001" x2="345.7" y2="696.8842000000001" stroke="#000" stroke-width="1.8"/>
<line x1="370.6" y1="731.3726" x2="370.6" y2="728.6318" stroke="#000" stroke-width="1.8"/>
<line x1="367.40000000000003" y1="728.6318" x2="373.8" y2="728.6318" stroke="#000" stroke-width="1.8"/>
<rect x="365.8" y="731.3726" width="9.599999999999966" height="39.627399999999966" fill="#7f7f7f" stroke="#000" stroke-width="2.0"/>
<line x1="370.6" y1="731.3726" x2="370.6" y2="734.1134000000001" stroke="#000" stroke-width="1.8"/>
<line x1="367.40000000000003" y1="734.1134000000001" x2="373.8" y2="734.1134000000001" stroke="#000" stroke-width="1.8"/>
<line x1="387.8" y1="742.2216" x2="387.8" y2="736.2832" stroke="#000" stroke-width="1.8"/>
<line x1="384.6" y1="736.2832" x2="391.0" y2="736.2832" stroke="#000" stroke-width="1.8"/>
<rect x="383.8" y="742.2216" width="8.0" height="28.778400000000033" fill="#fff" stroke="#000" stroke-width="2.0"/>
<line x1="387.8" y1="742.2216" x2="387.8" y2="748.16" stroke="#000" stroke-width="1.8"/>
<line x1="384.6" y1="748.16" x2="391.0" y2="748.16" stroke="#000" stroke-width="1.8"/>
<line x1="414.9" y1="726.462" x2="414.9" y2="720.8662" stroke="#000" stroke-width="1.8"/>
<line x1="411.7" y1="720.8662" x2="418.09999999999997" y2="720.8662" stroke="#000" stroke-width="1.8"/>
<rect x="409.9" y="726.462" width="10.0" height="44.53800000000001" fill="#7f7f7f" stroke="#000" stroke-width="2.0"/>
<line x1="414.9" y1="726.462" x2="414.9" y2="732.0577999999999" stroke="#000" stroke-width="1.8"/>
<line x1="411.7" y1="732.0577999999999" x2="418.09999999999997" y2="732.0577999999999" stroke="#000" stroke-width="1.8"/>
<line x1="431.65" y1="717.2118" x2="431.65" y2="708.5326" stroke="#000" stroke-width="1.8"/>
<line x1="428.45" y1="708.5326" x2="434.84999999999997" y2="708.5326" stroke="#000" stroke-width="1.8"/>
<rect x="427.1" y="717.2118" width="9.099999999999966" height="53.78819999999996" fill="#fff" stroke="#000" stroke-width="2.0"/>
<line x1="431.65" y1="717.2118" x2="431.65" y2="725.8910000000001" stroke="#000" stroke-width="1.8"/>
<line x1="428.45" y1="725.8910000000001" x2="434.84999999999997" y2="725.8910000000001" stroke="#000" stroke-width="1.8"/>
<path d="M369,724.4000000000001 V721.2 H388.1 V724.4000000000001" fill="none" stroke="#000" stroke-width="1.8"/>
<text x="378.55" y="0" text-anchor="middle" style="font-size:10px;" fill="#000"></text>
<text x="376.36" y="723.16" text-anchor="start" style="font-size:14px;font-weight:bold;" fill="#000" letter-spacing="1.0">*</text>
<path d="M413.6,704.8 V701.3 H432.7 V704.8" fill="none" stroke="#000" stroke-width="1.8"/>
<text x="423.15" y="0" text-anchor="middle" style="font-size:10px;" fill="#000"></text>
<text x="420.66" y="702.9599999999999" text-anchor="start" style="font-size:14px;font-weight:bold;" fill="#000" letter-spacing="1.0">*</text>
<rect x="369.4" y="634.2" width="15.3" height="7.6" fill="#7f7f7f" stroke="#000" stroke-width="2.0"/>
<rect x="369.4" y="650.2" width="15.3" height="7.2" fill="#fff" stroke="#000" stroke-width="2.0"/>
<text x="390.4" y="642.1" text-anchor="start" style="font-size:15.5px;" fill="#000">WT</text>
<text x="390.4" y="658.3" text-anchor="start" style="font-size:15.5px;" fill="#000"><tspan font-style="italic">Batf3</tspan><tspan font-style="italic" font-size="55%" baseline-shift="super">-/-</tspan></text>
<text x="285.3" y="715.5" text-anchor="middle" style="font-size:16px;" fill="#000" transform="rotate(-90 285.3 715.5)">Subsets (%)</text>
<text x="340.3" y="782.5" text-anchor="end" style="font-size:14px;" fill="#000" transform="rotate(-45 340.3 782.5)">Total</text>
<text x="354.5" y="792" text-anchor="end" style="font-size:14px;" fill="#000" transform="rotate(-45 354.5 792)">IFN&#947;<tspan font-size="60%" baseline-shift="super">+</tspan></text>
<text x="387.5" y="783" text-anchor="end" style="font-size:14px;" fill="#000" transform="rotate(-45 387.5 783)">IFN&#947;<tspan font-size="60%" baseline-shift="super">+</tspan></text>
<text x="400.5" y="790.6" text-anchor="end" style="font-size:14px;" fill="#000" transform="rotate(-45 400.5 790.6)">TNF&#945;<tspan font-size="60%" baseline-shift="super">-</tspan></text>
<text x="432.2" y="783" text-anchor="end" style="font-size:14px;" fill="#000" transform="rotate(-45 432.2 783)">IFN&#947;<tspan font-size="60%" baseline-shift="super">+</tspan></text>
<text x="446.5" y="790.6" text-anchor="end" style="font-size:14px;" fill="#000" transform="rotate(-45 446.5 790.6)">TNF&#945;<tspan font-size="60%" baseline-shift="super">+</tspan></text>
</svg></body></html>
